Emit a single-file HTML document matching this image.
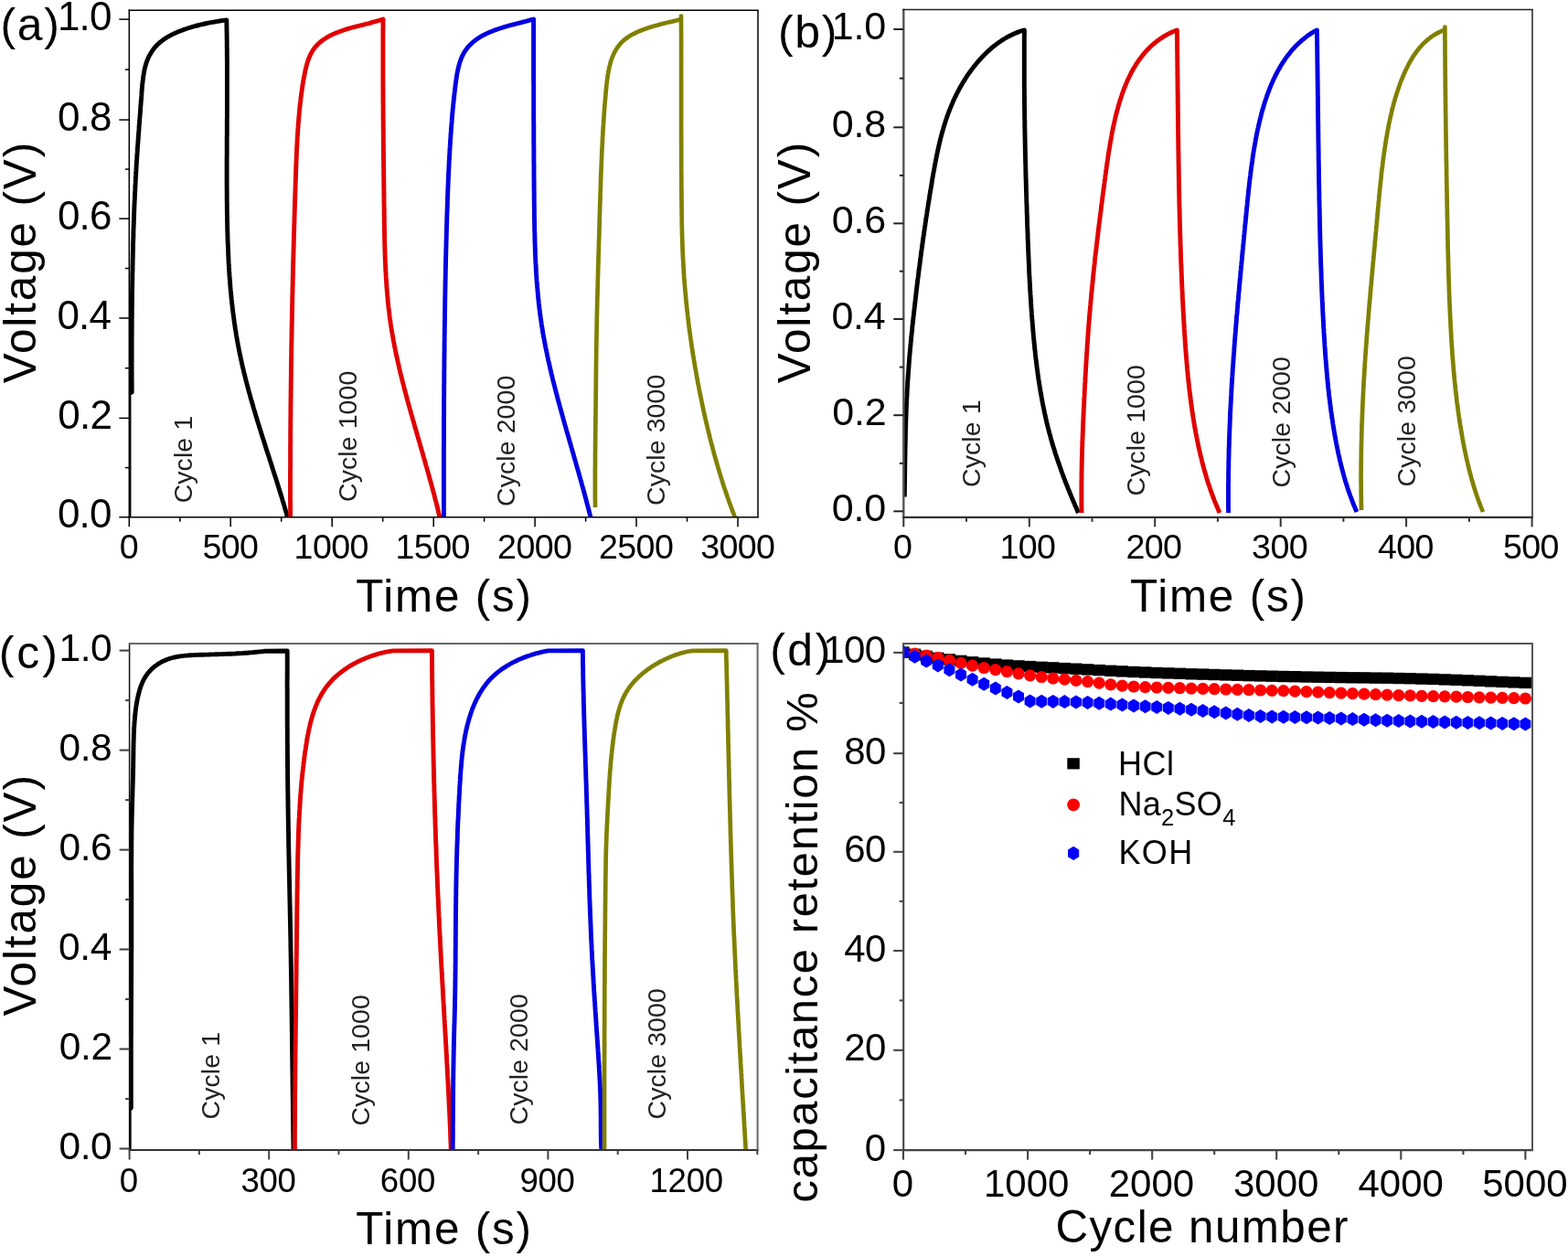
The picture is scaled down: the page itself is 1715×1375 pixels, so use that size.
<!DOCTYPE html>
<html lang="en">
<head>
<meta charset="utf-8">
<title>Galvanostatic charge-discharge cycles and capacitance retention</title>
<style>
html,body{margin:0;padding:0;background:#fff;}
body{width:1715px;height:1375px;overflow:hidden;}
svg{display:block;font-family:'Liberation Sans', sans-serif;}
</style>
</head>
<body>
<svg width="1715" height="1375" viewBox="0 0 1715 1375">
<rect x="0" y="0" width="1715" height="1375" fill="#ffffff"/>
<clipPath id="cp1"><rect x="141.3" y="11.3" width="687.7" height="554.4"/></clipPath><g clip-path="url(#cp1)">
<polyline points="141,566 141,431 144.2,429 144.2,426.2 144.2,423.5 144.2,420.7 144.2,417.9 144.1,415.1 144.1,412.4 144.1,409.6 144.1,406.8 144.1,403.9 144.1,401.1 144.1,398.3 144.1,395.5 144.1,392.6 144.1,389.8 144.1,387 144.1,384.1 144.1,381.3 144.1,378.4 144.1,375.5 144.1,372.7 144.1,369.8 144.2,366.9 144.2,364.1 144.2,361.2 144.2,358.3 144.2,355.4 144.2,352.6 144.2,349.7 144.3,346.8 144.3,343.9 144.3,341 144.3,338.1 144.4,335.2 144.4,332.3 144.4,329.4 144.5,326.5 144.5,323.6 144.5,320.8 144.6,317.9 144.6,315 144.7,312.1 144.7,309.2 144.8,306.3 144.8,303.4 144.8,300.5 144.9,297.7 145,294.8 145,291.9 145.1,289 145.1,286.2 145.2,283.3 145.3,280.4 145.3,277.6 145.4,274.7 145.5,271.9 145.5,269 145.6,266.2 145.7,263.3 145.8,260.5 145.9,257.7 145.9,254.8 146,252 146.1,249.2 146.2,246.4 146.3,243.6 146.4,240.8 146.5,238 146.6,235.3 146.7,232.5 146.8,229.7 146.9,227 147,224.2 147.1,221.5 147.3,218.7 147.4,216 147.5,213.3 147.6,210.6 147.8,207.9 147.9,205.2 148,202.5 148.2,199.9 148.3,197.2 148.4,194.6 148.6,191.9 148.7,189.3 148.9,186.7 149,184.1 149.2,181.5 149.3,178.9 149.5,176.4 149.7,173.8 149.8,171.2 150,168.7 150.2,166.2 150.3,163.6 150.5,161.1 150.7,158.6 150.9,156.1 151.1,153.6 151.2,151.1 151.4,148.6 151.6,146.1 151.8,143.7 152,141.2 152.1,138.7 152.3,136.2 152.5,133.8 152.7,131.3 152.9,128.9 153.1,126.4 153.3,124 153.5,121.5 153.6,119.1 153.8,116.6 154,114.2 154.2,111.7 154.4,109.3 154.6,106.8 154.8,104.4 154.9,101.9 155.1,99.5 155.3,97 155.5,94.6 155.7,92.2 156,89.7 156.3,87.4 156.6,85 156.9,82.7 157.3,80.4 157.7,78.1 158.1,75.9 158.6,73.7 159.2,71.6 159.8,69.5 160.5,67.5 161.2,65.5 162.1,63.6 162.9,61.7 163.9,59.9 164.9,58.2 166,56.5 167.1,54.8 168.3,53.2 169.6,51.7 170.9,50.2 172.3,48.8 173.7,47.5 175.2,46.1 176.8,44.9 178.4,43.7 180,42.5 181.8,41.4 183.5,40.3 185.3,39.3 187.2,38.3 189.1,37.4 191,36.5 192.9,35.6 194.9,34.8 196.9,34 198.9,33.2 201,32.4 203,31.7 205.1,31 207.2,30.4 209.2,29.7 211.3,29.1 213.4,28.5 215.5,28 217.6,27.5 219.7,26.9 221.8,26.5 223.9,26 226,25.5 228.1,25.1 230.1,24.7 232.2,24.3 234.2,24 236.2,23.6 238.2,23.3 240.1,23 242,22.7 243.9,22.4 245.8,22.1 247.6,21.9 247.8,21.9 247.9,25.1 247.9,28.3 248,31.4 248,34.6 248.1,37.7 248.1,40.9 248.2,44 248.2,47.1 248.2,50.2 248.3,53.3 248.3,56.4 248.3,59.5 248.3,62.6 248.4,65.6 248.4,68.7 248.4,71.7 248.4,74.7 248.4,77.8 248.4,80.8 248.4,83.8 248.4,86.8 248.4,89.8 248.4,92.7 248.4,95.7 248.4,98.7 248.4,101.6 248.4,104.5 248.4,107.5 248.4,110.4 248.4,113.3 248.4,116.2 248.4,119.1 248.4,122 248.4,124.9 248.4,127.7 248.3,130.6 248.3,133.4 248.3,136.3 248.3,139.1 248.3,141.9 248.3,144.8 248.3,147.6 248.2,150.4 248.2,153.2 248.2,155.9 248.2,158.7 248.2,161.5 248.2,164.2 248.2,167 248.2,169.7 248.1,172.5 248.1,175.2 248.1,177.9 248.1,180.6 248.1,183.3 248.1,186 248.1,188.7 248.1,191.4 248.1,194 248.1,196.7 248.1,199.3 248.1,202 248.1,204.6 248.1,207.2 248.2,209.9 248.2,212.5 248.2,215.1 248.2,217.7 248.2,220.3 248.3,222.8 248.3,225.4 248.3,228 248.3,230.5 248.4,233.1 248.4,235.6 248.5,238.2 248.5,240.7 248.6,243.2 248.6,245.7 248.7,248.2 248.7,250.7 248.8,253.2 248.9,255.7 248.9,258.2 249,260.7 249.1,263.1 249.2,265.6 249.3,268 249.4,270.5 249.5,272.9 249.6,275.3 249.7,277.8 249.8,280.2 249.9,282.6 250,285 250.1,287.4 250.3,289.8 250.4,292.2 250.6,294.5 250.7,296.9 250.9,299.3 251,301.7 251.2,304 251.4,306.4 251.6,308.7 251.7,311 251.9,313.4 252.1,315.7 252.3,318 252.6,320.4 252.8,322.7 253,325 253.2,327.3 253.5,329.6 253.7,331.9 254,334.3 254.2,336.6 254.5,338.9 254.8,341.1 255.1,343.4 255.4,345.7 255.7,348 256,350.3 256.3,352.6 256.7,354.9 257,357.2 257.3,359.4 257.7,361.7 258.1,364 258.4,366.3 258.8,368.6 259.2,370.8 259.6,373.1 260,375.4 260.4,377.7 260.9,379.9 261.3,382.2 261.8,384.5 262.2,386.8 262.7,389.1 263.2,391.3 263.7,393.6 264.2,395.9 264.7,398.2 265.2,400.5 265.7,402.7 266.3,405 266.8,407.3 267.4,409.6 268,411.9 268.5,414.2 269.1,416.5 269.7,418.7 270.3,421 270.9,423.3 271.5,425.6 272.1,427.9 272.8,430.2 273.4,432.4 274,434.7 274.7,437 275.3,439.3 276,441.6 276.7,443.8 277.3,446.1 278,448.4 278.7,450.7 279.4,452.9 280,455.2 280.7,457.5 281.4,459.7 282.1,462 282.8,464.2 283.5,466.5 284.2,468.8 284.9,471 285.6,473.3 286.3,475.5 287,477.8 287.7,480 288.5,482.2 289.2,484.5 289.9,486.7 290.6,488.9 291.3,491.2 292,493.4 292.7,495.6 293.5,497.8 294.2,500 294.9,502.2 295.6,504.4 296.3,506.6 297,508.8 297.7,511 298.4,513.2 299.1,515.4 299.8,517.5 300.5,519.7 301.2,521.9 301.9,524 302.6,526.2 303.2,528.3 303.9,530.5 304.6,532.6 305.2,534.8 305.9,536.9 306.6,539 307.2,541.1 307.9,543.2 308.5,545.3 309.1,547.4 309.8,549.5 310.4,551.6 311,553.7 311.6,555.7 312.2,557.8 312.8,559.9 313.4,561.9 313.9,564 314.5,566" fill="none" stroke="#000000" stroke-width="4.9" stroke-linejoin="round" stroke-linecap="butt" stroke-miterlimit="3"/>
<polyline points="317.6,566 317.6,562.9 317.6,559.9 317.6,556.9 317.6,553.8 317.6,550.8 317.5,547.7 317.5,544.7 317.5,541.7 317.5,538.6 317.5,535.6 317.5,532.6 317.5,529.6 317.5,526.6 317.5,523.5 317.5,520.5 317.5,517.5 317.5,514.5 317.6,511.5 317.6,508.5 317.6,505.5 317.6,502.5 317.6,499.5 317.6,496.5 317.6,493.6 317.6,490.6 317.6,487.6 317.7,484.6 317.7,481.7 317.7,478.7 317.7,475.7 317.7,472.8 317.7,469.8 317.8,466.9 317.8,463.9 317.8,461 317.8,458 317.9,455.1 317.9,452.1 317.9,449.2 317.9,446.3 318,443.3 318,440.4 318,437.5 318.1,434.6 318.1,431.7 318.1,428.8 318.2,425.9 318.2,423 318.2,420.1 318.3,417.2 318.3,414.3 318.3,411.4 318.4,408.5 318.4,405.6 318.4,402.8 318.5,399.9 318.5,397 318.6,394.2 318.6,391.3 318.7,388.5 318.7,385.6 318.7,382.8 318.8,379.9 318.8,377.1 318.9,374.3 318.9,371.4 319,368.6 319,365.8 319.1,363 319.1,360.2 319.2,357.4 319.2,354.6 319.3,351.8 319.3,349 319.4,346.2 319.4,343.4 319.5,340.6 319.6,337.8 319.6,335.1 319.7,332.3 319.7,329.5 319.8,326.8 319.8,324 319.9,321.3 320,318.5 320,315.8 320.1,313.1 320.2,310.3 320.2,307.6 320.3,304.9 320.3,302.2 320.4,299.5 320.5,296.8 320.5,294.1 320.6,291.4 320.7,288.7 320.7,286 320.8,283.3 320.9,280.6 320.9,278 321,275.3 321.1,272.6 321.2,270 321.2,267.3 321.3,264.7 321.4,262 321.4,259.4 321.5,256.8 321.6,254.1 321.7,251.5 321.7,248.9 321.8,246.3 321.9,243.7 322,241.1 322,238.5 322.1,235.9 322.2,233.3 322.3,230.8 322.3,228.2 322.4,225.6 322.5,223.1 322.6,220.5 322.7,218 322.7,215.4 322.8,212.9 322.9,210.4 323,207.8 323.1,205.3 323.1,202.8 323.2,200.3 323.3,197.8 323.4,195.3 323.5,192.8 323.6,190.3 323.6,187.8 323.7,185.4 323.8,182.9 323.9,180.4 324,178 324.1,175.5 324.2,173.1 324.3,170.7 324.4,168.2 324.5,165.8 324.6,163.4 324.7,161 324.9,158.6 325,156.2 325.1,153.9 325.2,151.5 325.4,149.1 325.5,146.8 325.7,144.4 325.8,142.1 326,139.7 326.1,137.4 326.3,135.1 326.5,132.8 326.7,130.5 326.9,128.2 327.1,125.9 327.3,123.7 327.5,121.4 327.7,119.2 327.9,116.9 328.2,114.7 328.4,112.5 328.7,110.3 328.9,108.1 329.2,105.9 329.5,103.7 329.8,101.5 330.1,99.3 330.4,97.2 330.7,95.1 331,92.9 331.4,90.8 331.7,88.7 332.1,86.6 332.5,84.5 332.9,82.4 333.3,80.4 333.7,78.3 334.1,76.3 334.6,74.3 335.1,72.3 335.6,70.4 336.2,68.4 336.8,66.5 337.5,64.7 338.2,62.9 339,61.1 339.8,59.3 340.7,57.7 341.6,56 342.6,54.4 343.7,52.9 344.9,51.4 346.2,50 347.5,48.6 348.9,47.3 350.3,46 351.8,44.8 353.4,43.6 355.1,42.5 356.7,41.4 358.5,40.4 360.2,39.4 362.1,38.5 363.9,37.6 365.8,36.8 367.7,35.9 369.7,35.2 371.7,34.4 373.7,33.7 375.7,33 377.7,32.3 379.8,31.7 381.8,31.1 383.9,30.5 386,29.9 388.1,29.4 390.1,28.8 392.2,28.3 394.3,27.8 396.3,27.3 398.3,26.8 400.4,26.2 402.4,25.8 404.3,25.3 406.3,24.7 408.2,24.2 410.1,23.7 412,23.2 413.8,22.7 415.6,22.1 417.3,21.6 419,21 419,21.3 419,24.2 419,27.2 419,30.1 418.9,33.1 418.9,36 418.9,38.9 418.9,41.9 418.9,44.8 418.9,47.7 418.9,50.6 418.9,53.5 418.9,56.4 418.9,59.4 418.9,62.3 418.9,65.1 418.9,68 418.9,70.9 418.9,73.8 418.9,76.7 418.9,79.6 418.9,82.4 418.9,85.3 418.9,88.1 418.9,91 418.9,93.8 418.9,96.7 419,99.5 419,102.3 419,105.2 419,108 419,110.8 419,113.6 419.1,116.4 419.1,119.2 419.1,122 419.1,124.7 419.1,127.5 419.1,130.3 419.2,133 419.2,135.8 419.2,138.5 419.2,141.2 419.3,144 419.3,146.7 419.3,149.4 419.3,152.1 419.3,154.8 419.4,157.5 419.4,160.1 419.4,162.8 419.4,165.5 419.5,168.1 419.5,170.7 419.5,173.4 419.5,176 419.6,178.6 419.6,181.2 419.6,183.8 419.7,186.4 419.7,189 419.7,191.5 419.7,194.1 419.8,196.6 419.8,199.2 419.8,201.7 419.8,204.2 419.9,206.7 419.9,209.2 419.9,211.7 420,214.2 420,216.7 420,219.1 420,221.6 420.1,224 420.1,226.5 420.1,228.9 420.2,231.4 420.2,233.8 420.2,236.2 420.3,238.6 420.3,241 420.3,243.5 420.4,245.9 420.4,248.3 420.4,250.7 420.5,253.1 420.5,255.5 420.6,257.9 420.6,260.3 420.7,262.7 420.7,265 420.8,267.4 420.9,269.8 420.9,272.2 421,274.6 421.1,276.9 421.1,279.3 421.2,281.7 421.3,284 421.4,286.4 421.5,288.8 421.6,291.1 421.7,293.5 421.8,295.8 422,298.2 422.1,300.6 422.2,302.9 422.4,305.3 422.5,307.6 422.7,309.9 422.8,312.3 423,314.6 423.2,317 423.4,319.3 423.6,321.7 423.8,324 424,326.3 424.2,328.7 424.4,331 424.7,333.3 424.9,335.7 425.2,338 425.5,340.3 425.8,342.6 426,345 426.3,347.3 426.7,349.6 427,352 427.3,354.3 427.7,356.6 428,358.9 428.4,361.3 428.8,363.6 429.2,365.9 429.6,368.2 430,370.6 430.4,372.9 430.9,375.2 431.3,377.5 431.8,379.9 432.2,382.2 432.7,384.5 433.2,386.8 433.7,389.2 434.2,391.5 434.7,393.8 435.2,396.1 435.8,398.5 436.3,400.8 436.8,403.1 437.4,405.4 437.9,407.8 438.5,410.1 439.1,412.4 439.6,414.7 440.2,417.1 440.8,419.4 441.4,421.7 442,424.1 442.6,426.4 443.2,428.7 443.9,431.1 444.5,433.4 445.1,435.7 445.7,438.1 446.4,440.4 447,442.7 447.7,445.1 448.3,447.4 449,449.7 449.6,452.1 450.3,454.4 451,456.8 451.6,459.1 452.3,461.4 453,463.8 453.6,466.1 454.3,468.5 455,470.8 455.7,473.2 456.3,475.5 457,477.9 457.7,480.2 458.4,482.6 459.1,484.9 459.7,487.3 460.4,489.6 461.1,492 461.8,494.4 462.5,496.7 463.1,499.1 463.8,501.5 464.5,503.8 465.2,506.2 465.8,508.6 466.5,510.9 467.2,513.3 467.9,515.7 468.5,518.1 469.2,520.4 469.8,522.8 470.5,525.2 471.2,527.6 471.8,530 472.5,532.3 473.1,534.7 473.7,537.1 474.4,539.5 475,541.9 475.6,544.3 476.2,546.7 476.9,549.1 477.5,551.5 478.1,553.9 478.7,556.3 479.3,558.8 479.8,561.2 480.4,563.6 481,566" fill="none" stroke="#e00000" stroke-width="4.9" stroke-linejoin="round" stroke-linecap="butt" stroke-miterlimit="3"/>
<polyline points="485.4,566 485.4,563 485.4,560.1 485.4,557.1 485.4,554.1 485.4,551.2 485.4,548.2 485.4,545.2 485.4,542.3 485.4,539.3 485.4,536.4 485.4,533.4 485.4,530.4 485.4,527.5 485.4,524.5 485.4,521.5 485.4,518.6 485.4,515.6 485.4,512.6 485.4,509.7 485.4,506.7 485.4,503.8 485.4,500.8 485.4,497.8 485.4,494.9 485.4,491.9 485.4,489 485.5,486 485.5,483.1 485.5,480.1 485.5,477.2 485.5,474.2 485.5,471.3 485.5,468.3 485.5,465.4 485.5,462.4 485.5,459.5 485.5,456.5 485.6,453.6 485.6,450.7 485.6,447.7 485.6,444.8 485.6,441.9 485.6,438.9 485.6,436 485.7,433.1 485.7,430.2 485.7,427.2 485.7,424.3 485.7,421.4 485.8,418.5 485.8,415.6 485.8,412.7 485.8,409.8 485.8,406.9 485.9,404 485.9,401.1 485.9,398.2 485.9,395.3 486,392.4 486,389.5 486,386.7 486.1,383.8 486.1,380.9 486.1,378 486.1,375.2 486.2,372.3 486.2,369.5 486.2,366.6 486.3,363.8 486.3,360.9 486.3,358.1 486.4,355.2 486.4,352.4 486.5,349.6 486.5,346.7 486.5,343.9 486.6,341.1 486.6,338.3 486.7,335.5 486.7,332.7 486.7,329.9 486.8,327.1 486.8,324.3 486.9,321.5 486.9,318.7 487,315.9 487,313.2 487.1,310.4 487.1,307.6 487.2,304.9 487.2,302.1 487.3,299.4 487.3,296.6 487.4,293.9 487.5,291.2 487.5,288.4 487.6,285.7 487.6,283 487.7,280.3 487.8,277.6 487.8,274.9 487.9,272.2 488,269.5 488,266.8 488.1,264.2 488.2,261.5 488.2,258.8 488.3,256.2 488.4,253.5 488.5,250.9 488.5,248.2 488.6,245.6 488.7,243 488.8,240.4 488.8,237.8 488.9,235.2 489,232.6 489.1,230 489.2,227.4 489.3,224.8 489.4,222.2 489.4,219.7 489.5,217.1 489.6,214.6 489.7,212 489.8,209.5 489.9,207 490,204.5 490.1,202 490.2,199.4 490.3,197 490.4,194.5 490.5,192 490.6,189.5 490.8,187 490.9,184.6 491,182.1 491.1,179.7 491.2,177.2 491.4,174.8 491.5,172.4 491.6,170 491.8,167.6 491.9,165.2 492,162.8 492.2,160.4 492.3,158 492.5,155.6 492.6,153.3 492.8,150.9 492.9,148.6 493.1,146.2 493.3,143.9 493.4,141.6 493.6,139.3 493.8,137 494,134.7 494.2,132.4 494.3,130.1 494.5,127.8 494.7,125.5 494.9,123.3 495.1,121 495.3,118.8 495.6,116.6 495.8,114.3 496,112.1 496.2,109.9 496.5,107.7 496.7,105.5 496.9,103.3 497.2,101.1 497.4,99 497.7,96.8 498,94.7 498.2,92.5 498.5,90.4 498.8,88.3 499.1,86.1 499.4,84.1 499.7,82 500.1,79.9 500.5,77.9 500.9,75.9 501.4,73.9 501.9,71.9 502.4,70 503,68.1 503.6,66.3 504.3,64.4 505,62.6 505.8,60.9 506.7,59.2 507.6,57.5 508.6,55.9 509.7,54.4 510.8,52.9 512,51.4 513.3,50 514.7,48.6 516.1,47.3 517.5,46 519,44.7 520.6,43.6 522.2,42.4 523.9,41.3 525.6,40.2 527.4,39.2 529.2,38.2 531.1,37.3 533,36.4 534.9,35.5 536.8,34.7 538.8,33.9 540.8,33.1 542.8,32.4 544.8,31.7 546.9,31 548.9,30.4 551,29.7 553,29.1 555.1,28.5 557.1,27.9 559.2,27.4 561.2,26.8 563.2,26.3 565.2,25.8 567.2,25.3 569.2,24.8 571.1,24.3 573,23.8 574.9,23.3 576.7,22.9 578.5,22.4 580.2,21.9 581.9,21.5 583.6,21 583.6,21.3 583.6,24.1 583.6,26.8 583.6,29.6 583.6,32.4 583.6,35.2 583.6,38.1 583.6,40.9 583.6,43.7 583.6,46.6 583.6,49.4 583.6,52.3 583.6,55.1 583.6,58 583.6,60.9 583.6,63.7 583.6,66.6 583.6,69.5 583.6,72.4 583.6,75.3 583.6,78.2 583.6,81.1 583.6,84 583.6,86.9 583.6,89.8 583.7,92.7 583.7,95.6 583.7,98.5 583.7,101.4 583.7,104.3 583.7,107.2 583.7,110.1 583.7,112.9 583.7,115.8 583.7,118.7 583.7,121.6 583.7,124.5 583.7,127.4 583.7,130.2 583.7,133.1 583.8,136 583.8,138.8 583.8,141.6 583.8,144.5 583.8,147.3 583.8,150.1 583.8,153 583.8,155.8 583.8,158.6 583.9,161.3 583.9,164.1 583.9,166.9 583.9,169.6 583.9,172.4 583.9,175.1 583.9,177.8 584,180.5 584,183.2 584,185.9 584,188.6 584,191.2 584,193.9 584.1,196.5 584.1,199.1 584.1,201.7 584.1,204.2 584.1,206.8 584.2,209.3 584.2,211.9 584.2,214.4 584.2,216.9 584.2,219.3 584.3,221.8 584.3,224.2 584.3,226.7 584.4,229.1 584.4,231.5 584.4,233.9 584.4,236.3 584.5,238.7 584.5,241.1 584.6,243.4 584.6,245.8 584.6,248.1 584.7,250.5 584.7,252.9 584.8,255.2 584.9,257.6 584.9,259.9 585,262.3 585,264.6 585.1,266.9 585.2,269.3 585.3,271.6 585.3,273.9 585.4,276.3 585.5,278.6 585.6,280.9 585.7,283.2 585.8,285.6 585.9,287.9 586.1,290.2 586.2,292.5 586.3,294.8 586.4,297.2 586.6,299.5 586.7,301.8 586.9,304.1 587,306.4 587.2,308.7 587.4,311 587.6,313.3 587.8,315.6 588,317.9 588.2,320.2 588.4,322.5 588.6,324.8 588.8,327.1 589.1,329.4 589.3,331.7 589.6,334.1 589.8,336.4 590.1,338.7 590.4,341 590.7,343.3 591,345.6 591.3,347.9 591.7,350.2 592,352.5 592.3,354.8 592.7,357.1 593.1,359.4 593.4,361.7 593.8,364 594.2,366.3 594.6,368.6 595.1,370.9 595.5,373.3 595.9,375.6 596.4,377.9 596.8,380.2 597.3,382.5 597.8,384.8 598.3,387.1 598.7,389.5 599.2,391.8 599.7,394.1 600.3,396.4 600.8,398.7 601.3,401.1 601.8,403.4 602.4,405.7 602.9,408 603.5,410.4 604.1,412.7 604.6,415 605.2,417.3 605.8,419.7 606.4,422 607,424.3 607.6,426.6 608.2,429 608.8,431.3 609.4,433.6 610,436 610.6,438.3 611.3,440.7 611.9,443 612.5,445.3 613.2,447.7 613.8,450 614.5,452.4 615.1,454.7 615.8,457 616.4,459.4 617.1,461.7 617.7,464.1 618.4,466.4 619.1,468.8 619.7,471.1 620.4,473.5 621.1,475.8 621.8,478.2 622.4,480.5 623.1,482.9 623.8,485.2 624.5,487.6 625.1,489.9 625.8,492.3 626.5,494.7 627.2,497 627.8,499.4 628.5,501.8 629.2,504.1 629.9,506.5 630.5,508.9 631.2,511.2 631.9,513.6 632.6,516 633.2,518.3 633.9,520.7 634.6,523.1 635.2,525.4 635.9,527.8 636.5,530.2 637.2,532.6 637.9,535 638.5,537.3 639.2,539.7 639.8,542.1 640.4,544.5 641.1,546.9 641.7,549.3 642.3,551.6 643,554 643.6,556.4 644.2,558.8 644.8,561.2 645.4,563.6 646,566" fill="none" stroke="#0000e0" stroke-width="4.9" stroke-linejoin="round" stroke-linecap="butt" stroke-miterlimit="3"/>
<polyline points="651,555 651,551.8 651,548.7 650.9,545.5 650.9,542.4 650.9,539.3 650.9,536.3 650.9,533.3 650.9,530.2 650.9,527.2 650.9,524.3 650.9,521.3 650.9,518.4 650.9,515.5 650.9,512.6 651,509.7 651,506.8 651,504 651,501.1 651,498.3 651,495.5 651.1,492.7 651.1,489.9 651.1,487.2 651.1,484.4 651.2,481.6 651.2,478.9 651.2,476.2 651.2,473.5 651.3,470.7 651.3,468 651.3,465.3 651.4,462.6 651.4,459.9 651.4,457.3 651.5,454.6 651.5,451.9 651.5,449.2 651.5,446.5 651.6,443.9 651.6,441.2 651.6,438.5 651.7,435.8 651.7,433.2 651.7,430.5 651.7,427.8 651.8,425.1 651.8,422.4 651.8,419.7 651.8,417 651.9,414.3 651.9,411.6 651.9,408.9 651.9,406.2 652,403.5 652,400.7 652,398 652.1,395.3 652.1,392.5 652.1,389.8 652.2,387 652.2,384.3 652.2,381.5 652.3,378.7 652.3,375.9 652.4,373.1 652.4,370.4 652.5,367.5 652.5,364.7 652.6,361.9 652.6,359.1 652.7,356.3 652.7,353.5 652.8,350.6 652.8,347.8 652.9,345 653,342.1 653,339.3 653.1,336.4 653.2,333.6 653.2,330.7 653.3,327.9 653.4,325 653.5,322.2 653.5,319.3 653.6,316.5 653.7,313.6 653.8,310.8 653.8,307.9 653.9,305.1 654,302.3 654.1,299.4 654.1,296.6 654.2,293.8 654.3,290.9 654.4,288.1 654.5,285.3 654.5,282.5 654.6,279.7 654.7,276.9 654.8,274.1 654.9,271.3 654.9,268.5 655,265.7 655.1,262.9 655.2,260.2 655.3,257.4 655.4,254.7 655.4,252 655.5,249.2 655.6,246.5 655.7,243.8 655.7,241.1 655.8,238.4 655.9,235.7 656,233.1 656.1,230.4 656.1,227.7 656.2,225.1 656.3,222.5 656.4,219.8 656.5,217.2 656.5,214.6 656.6,212 656.7,209.4 656.8,206.8 656.9,204.3 657,201.7 657,199.1 657.1,196.6 657.2,194.1 657.3,191.5 657.4,189 657.5,186.5 657.6,184 657.7,181.5 657.8,179 657.9,176.5 658,174.1 658.1,171.6 658.2,169.1 658.3,166.7 658.4,164.3 658.5,161.8 658.7,159.4 658.8,157 658.9,154.6 659,152.2 659.1,149.8 659.3,147.4 659.4,145.1 659.5,142.7 659.7,140.3 659.8,138 660,135.7 660.1,133.3 660.3,131 660.4,128.7 660.6,126.4 660.7,124.1 660.9,121.8 661.1,119.5 661.2,117.2 661.4,115 661.6,112.7 661.8,110.5 662,108.2 662.2,106 662.4,103.7 662.6,101.5 662.8,99.3 663,97.1 663.2,94.9 663.4,92.7 663.7,90.5 663.9,88.4 664.2,86.2 664.5,84.1 664.8,82 665.2,79.9 665.5,77.9 666,75.8 666.4,73.8 666.9,71.8 667.4,69.9 667.9,67.9 668.5,66 669.2,64.2 669.8,62.4 670.6,60.6 671.4,58.8 672.2,57.1 673.1,55.4 674.1,53.8 675.1,52.2 676.2,50.7 677.4,49.2 678.6,47.7 679.9,46.3 681.3,45 682.7,43.7 684.3,42.5 685.9,41.3 687.5,40.2 689.3,39.1 691.1,38 692.9,37.1 694.8,36.1 696.7,35.2 698.7,34.3 700.7,33.5 702.7,32.7 704.7,31.9 706.8,31.2 708.9,30.5 711,29.8 713.1,29.2 715.2,28.6 717.3,28 719.4,27.4 721.5,26.8 723.5,26.3 725.6,25.8 727.6,25.3 729.6,24.8 731.6,24.3 733.6,23.9 735.5,23.4 737.5,22.9 739.3,22.5 741.2,22 743,21.6 745,21.3 745,17.5 745,21.3 745,23.8 745,26.4 745,29 745,31.6 745.1,34.3 745.1,37 745.1,39.7 745.1,42.4 745.1,45.1 745.1,47.9 745.1,50.7 745.1,53.5 745.1,56.4 745.1,59.2 745.1,62.1 745.1,65 745.1,67.9 745.1,70.8 745.1,73.7 745.1,76.7 745.1,79.7 745.1,82.6 745.1,85.6 745.1,88.6 745.1,91.6 745.1,94.7 745.1,97.7 745.1,100.7 745.1,103.8 745.1,106.8 745.1,109.9 745.1,112.9 745.1,116 745.1,119.1 745.1,122.1 745.1,125.2 745.1,128.3 745.1,131.3 745.1,134.4 745.1,137.5 745.1,140.5 745.1,143.6 745.1,146.6 745.1,149.7 745.1,152.7 745.1,155.7 745.2,158.8 745.2,161.8 745.2,164.8 745.2,167.8 745.2,170.8 745.2,173.7 745.2,176.7 745.2,179.6 745.2,182.5 745.2,185.5 745.2,188.3 745.3,191.2 745.3,194.1 745.3,196.9 745.3,199.7 745.3,202.5 745.3,205.3 745.4,208.1 745.4,210.8 745.4,213.5 745.4,216.2 745.5,218.9 745.5,221.5 745.5,224.1 745.5,226.7 745.6,229.2 745.6,231.7 745.6,234.2 745.7,236.7 745.7,239.1 745.7,241.5 745.8,243.9 745.8,246.3 745.9,248.6 745.9,251 746,253.3 746,255.6 746.1,257.9 746.2,260.2 746.2,262.5 746.3,264.8 746.4,267 746.5,269.3 746.5,271.6 746.6,273.8 746.7,276.1 746.8,278.3 746.9,280.6 747,282.8 747.2,285 747.3,287.3 747.4,289.5 747.5,291.8 747.7,294 747.8,296.2 747.9,298.5 748.1,300.7 748.2,302.9 748.4,305.2 748.6,307.4 748.7,309.6 748.9,311.9 749.1,314.1 749.3,316.3 749.5,318.6 749.7,320.8 749.9,323.1 750.1,325.3 750.3,327.6 750.5,329.8 750.7,332.1 751,334.3 751.2,336.6 751.4,338.9 751.7,341.2 752,343.4 752.2,345.7 752.5,348 752.8,350.3 753,352.6 753.3,354.9 753.6,357.3 753.9,359.6 754.2,361.9 754.5,364.2 754.9,366.6 755.2,368.9 755.5,371.3 755.9,373.7 756.2,376 756.6,378.4 756.9,380.8 757.3,383.1 757.6,385.5 758,387.9 758.4,390.3 758.8,392.7 759.2,395.1 759.6,397.5 760,399.9 760.4,402.3 760.8,404.7 761.2,407.1 761.7,409.5 762.1,411.9 762.5,414.3 763,416.7 763.4,419.2 763.9,421.6 764.4,424 764.8,426.4 765.3,428.8 765.8,431.2 766.3,433.6 766.8,436 767.3,438.4 767.8,440.9 768.3,443.3 768.8,445.7 769.3,448.1 769.8,450.5 770.4,452.9 770.9,455.3 771.4,457.6 772,460 772.5,462.4 773.1,464.8 773.7,467.2 774.2,469.5 774.8,471.9 775.4,474.3 776,476.6 776.5,479 777.1,481.3 777.7,483.7 778.3,486 779,488.3 779.6,490.7 780.2,493 780.8,495.3 781.4,497.6 782.1,499.9 782.7,502.2 783.4,504.4 784,506.7 784.7,509 785.3,511.2 786,513.5 786.6,515.7 787.3,517.9 788,520.1 788.7,522.3 789.4,524.5 790,526.7 790.7,528.9 791.4,531.1 792.1,533.2 792.9,535.4 793.6,537.5 794.3,539.6 795,541.7 795.7,543.8 796.5,545.9 797.2,548 797.9,550 798.7,552.1 799.4,554.1 800.2,556.1 800.9,558.1 801.7,560.1 802.5,562.1 803.2,564.1 804,566" fill="none" stroke="#808000" stroke-width="4.7" stroke-linejoin="round" stroke-linecap="butt" stroke-miterlimit="3"/>
</g>
<line x1="141.3" y1="10.6" x2="141.3" y2="566.5" stroke="#000" stroke-width="1.5"/>
<line x1="140.6" y1="565.7" x2="829.8" y2="565.7" stroke="#000" stroke-width="1.5"/>
<line x1="140.6" y1="11.3" x2="829.8" y2="11.3" stroke="#000" stroke-width="1.5"/>
<line x1="829" y1="11.3" x2="829" y2="565.7" stroke="#000" stroke-width="1.5"/>
<line x1="130.3" y1="565.7" x2="141.3" y2="565.7" stroke="#000" stroke-width="1.5"/>
<line x1="130.3" y1="457.4" x2="141.3" y2="457.4" stroke="#000" stroke-width="1.5"/>
<line x1="130.3" y1="348" x2="141.3" y2="348" stroke="#000" stroke-width="1.5"/>
<line x1="130.3" y1="239.2" x2="141.3" y2="239.2" stroke="#000" stroke-width="1.5"/>
<line x1="130.3" y1="131.1" x2="141.3" y2="131.1" stroke="#000" stroke-width="1.5"/>
<line x1="130.3" y1="21.1" x2="141.3" y2="21.1" stroke="#000" stroke-width="1.5"/>
<line x1="136.8" y1="511.6" x2="141.3" y2="511.6" stroke="#000" stroke-width="1.5"/>
<line x1="136.8" y1="402.7" x2="141.3" y2="402.7" stroke="#000" stroke-width="1.5"/>
<line x1="136.8" y1="293.6" x2="141.3" y2="293.6" stroke="#000" stroke-width="1.5"/>
<line x1="136.8" y1="185.1" x2="141.3" y2="185.1" stroke="#000" stroke-width="1.5"/>
<line x1="136.8" y1="76.1" x2="141.3" y2="76.1" stroke="#000" stroke-width="1.5"/>
<line x1="141.3" y1="565.7" x2="141.3" y2="576.2" stroke="#000" stroke-width="1.5"/>
<line x1="252.2" y1="565.7" x2="252.2" y2="576.2" stroke="#000" stroke-width="1.5"/>
<line x1="363.2" y1="565.7" x2="363.2" y2="576.2" stroke="#000" stroke-width="1.5"/>
<line x1="474.2" y1="565.7" x2="474.2" y2="576.2" stroke="#000" stroke-width="1.5"/>
<line x1="585.1" y1="565.7" x2="585.1" y2="576.2" stroke="#000" stroke-width="1.5"/>
<line x1="696" y1="565.7" x2="696" y2="576.2" stroke="#000" stroke-width="1.5"/>
<line x1="807" y1="565.7" x2="807" y2="576.2" stroke="#000" stroke-width="1.5"/>
<line x1="196.8" y1="565.7" x2="196.8" y2="570.7" stroke="#000" stroke-width="1.5"/>
<line x1="307.7" y1="565.7" x2="307.7" y2="570.7" stroke="#000" stroke-width="1.5"/>
<line x1="418.7" y1="565.7" x2="418.7" y2="570.7" stroke="#000" stroke-width="1.5"/>
<line x1="529.6" y1="565.7" x2="529.6" y2="570.7" stroke="#000" stroke-width="1.5"/>
<line x1="640.6" y1="565.7" x2="640.6" y2="570.7" stroke="#000" stroke-width="1.5"/>
<line x1="751.5" y1="565.7" x2="751.5" y2="570.7" stroke="#000" stroke-width="1.5"/>
<text x="62.90" y="577.26" font-size="44" letter-spacing="-0.80" fill="#000">0.0</text>
<text x="63.34" y="468.96" font-size="44" letter-spacing="-0.80" fill="#000">0.2</text>
<text x="62.46" y="359.56" font-size="44" letter-spacing="-0.80" fill="#000">0.4</text>
<text x="62.90" y="250.76" font-size="44" letter-spacing="-0.80" fill="#000">0.6</text>
<text x="62.90" y="142.66" font-size="44" letter-spacing="-0.80" fill="#000">0.8</text>
<text x="62.90" y="32.66" font-size="44" letter-spacing="-0.80" fill="#000">1.0</text>
<text x="130.77" y="611.32" font-size="37.6" letter-spacing="-0.60" fill="#000">0</text>
<text x="221.45" y="611.32" font-size="37.6" letter-spacing="-0.60" fill="#000">500</text>
<text x="321.61" y="611.32" font-size="37.6" letter-spacing="-0.60" fill="#000">1000</text>
<text x="432.56" y="611.32" font-size="37.6" letter-spacing="-0.60" fill="#000">1500</text>
<text x="544.08" y="611.32" font-size="37.6" letter-spacing="-0.60" fill="#000">2000</text>
<text x="655.03" y="611.32" font-size="37.6" letter-spacing="-0.60" fill="#000">2500</text>
<text x="766.16" y="611.32" font-size="37.6" letter-spacing="-0.60" fill="#000">3000</text>
<text x="389.21" y="668.90" font-size="49.4" letter-spacing="1.80" fill="#000">Time (s)</text>
<text x="38.70" y="419.19" font-size="49.4" letter-spacing="1.90" fill="#000" transform="rotate(-90 38.70 419.19)">Voltage (V)</text>
<text x="0.51" y="43.60" font-size="49.9" letter-spacing="1.70" fill="#000">(a)</text>
<text x="210.40" y="550.32" font-size="28.4" letter-spacing="0.12" fill="#222" transform="rotate(-90 210.40 550.32)">Cycle 1</text>
<text x="390.00" y="548.92" font-size="28.4" letter-spacing="0.12" fill="#222" transform="rotate(-90 390.00 548.92)">Cycle 1000</text>
<text x="563.50" y="553.92" font-size="28.4" letter-spacing="0.12" fill="#222" transform="rotate(-90 563.50 553.92)">Cycle 2000</text>
<text x="727.50" y="552.92" font-size="28.4" letter-spacing="0.12" fill="#222" transform="rotate(-90 727.50 552.92)">Cycle 3000</text>
<clipPath id="cp2"><rect x="988.3" y="10.6" width="687.7" height="555.2"/></clipPath><g clip-path="url(#cp2)">
<polyline points="989.3,543.5 989.3,540.9 989.4,538.3 989.4,535.7 989.4,533.1 989.5,530.5 989.5,527.9 989.6,525.3 989.6,522.6 989.6,520 989.7,517.3 989.7,514.7 989.7,512 989.8,509.3 989.8,506.6 989.9,503.9 989.9,501.2 989.9,498.5 990,495.8 990,493.1 990.1,490.4 990.1,487.7 990.2,484.9 990.3,482.2 990.3,479.5 990.4,476.7 990.4,474 990.5,471.2 990.6,468.5 990.7,465.7 990.7,462.9 990.8,460.2 990.9,457.4 991,454.6 991.1,451.9 991.2,449.1 991.3,446.3 991.4,443.5 991.6,440.8 991.7,438 991.8,435.2 992,432.4 992.1,429.7 992.2,426.9 992.4,424.1 992.6,421.3 992.7,418.5 992.9,415.8 993.1,413 993.3,410.2 993.5,407.4 993.7,404.7 993.9,401.9 994.1,399.1 994.3,396.4 994.5,393.6 994.7,390.8 995,388.1 995.2,385.3 995.5,382.6 995.7,379.9 996,377.1 996.2,374.4 996.5,371.6 996.7,368.9 997,366.2 997.3,363.5 997.6,360.8 997.8,358.1 998.1,355.4 998.4,352.7 998.7,350 999,347.3 999.3,344.7 999.6,342 999.9,339.4 1000.2,336.7 1000.5,334.1 1000.8,331.4 1001.1,328.8 1001.4,326.2 1001.7,323.6 1002,321 1002.3,318.4 1002.6,315.8 1002.9,313.2 1003.2,310.7 1003.5,308.1 1003.8,305.6 1004.2,303 1004.5,300.5 1004.8,297.9 1005.1,295.4 1005.4,292.9 1005.8,290.4 1006.1,287.9 1006.4,285.4 1006.7,282.9 1007.1,280.4 1007.4,277.9 1007.7,275.4 1008.1,272.9 1008.4,270.5 1008.8,268 1009.1,265.6 1009.4,263.1 1009.8,260.7 1010.1,258.2 1010.5,255.8 1010.8,253.4 1011.2,250.9 1011.5,248.5 1011.9,246.1 1012.2,243.7 1012.6,241.3 1012.9,238.9 1013.3,236.5 1013.7,234.1 1014,231.7 1014.4,229.3 1014.8,226.9 1015.1,224.6 1015.5,222.2 1015.9,219.8 1016.3,217.4 1016.6,215.1 1017,212.7 1017.4,210.4 1017.8,208 1018.2,205.7 1018.6,203.3 1019,201 1019.3,198.6 1019.7,196.3 1020.1,193.9 1020.5,191.6 1020.9,189.3 1021.4,186.9 1021.8,184.6 1022.2,182.3 1022.6,180 1023.1,177.7 1023.5,175.3 1024,173 1024.4,170.7 1024.9,168.4 1025.4,166.1 1025.9,163.8 1026.4,161.6 1026.9,159.3 1027.4,157 1028,154.7 1028.5,152.4 1029.1,150.2 1029.7,147.9 1030.3,145.7 1030.9,143.4 1031.6,141.2 1032.2,138.9 1032.9,136.7 1033.6,134.5 1034.3,132.3 1035.1,130 1035.8,127.8 1036.6,125.6 1037.4,123.4 1038.2,121.3 1039.1,119.1 1040,116.9 1040.9,114.7 1041.8,112.6 1042.7,110.4 1043.7,108.3 1044.7,106.1 1045.8,104 1046.8,101.9 1047.9,99.8 1049,97.6 1050.2,95.5 1051.4,93.5 1052.6,91.4 1053.8,89.3 1055.1,87.3 1056.4,85.2 1057.7,83.2 1059.1,81.2 1060.5,79.2 1061.9,77.3 1063.3,75.4 1064.8,73.4 1066.3,71.6 1067.8,69.7 1069.3,67.9 1070.9,66 1072.5,64.3 1074.1,62.5 1075.8,60.8 1077.4,59.1 1079.1,57.5 1080.8,55.9 1082.6,54.3 1084.4,52.7 1086.1,51.2 1088,49.8 1089.8,48.4 1091.7,47 1093.5,45.7 1095.4,44.4 1097.4,43.2 1099.3,42 1101.3,40.8 1103.3,39.7 1105.3,38.7 1107.4,37.7 1109.4,36.8 1111.5,35.9 1113.6,35.1 1115.7,34.3 1117.8,33.6 1120,33 1120.4,33 1120.4,35.9 1120.4,38.7 1120.3,41.6 1120.3,44.4 1120.3,47.3 1120.3,50.1 1120.3,53 1120.3,55.8 1120.3,58.6 1120.3,61.4 1120.3,64.2 1120.3,67 1120.3,69.8 1120.3,72.6 1120.3,75.4 1120.3,78.2 1120.3,81 1120.3,83.8 1120.3,86.5 1120.3,89.3 1120.3,92 1120.3,94.8 1120.4,97.5 1120.4,100.3 1120.4,103 1120.4,105.7 1120.5,108.5 1120.5,111.2 1120.5,113.9 1120.5,116.6 1120.6,119.3 1120.6,122 1120.6,124.7 1120.7,127.4 1120.7,130.1 1120.8,132.7 1120.8,135.4 1120.8,138.1 1120.9,140.7 1120.9,143.4 1121,146 1121,148.7 1121.1,151.3 1121.1,153.9 1121.2,156.6 1121.2,159.2 1121.3,161.8 1121.3,164.4 1121.4,167 1121.4,169.6 1121.5,172.2 1121.6,174.8 1121.6,177.4 1121.7,180 1121.8,182.5 1121.8,185.1 1121.9,187.7 1121.9,190.2 1122,192.8 1122.1,195.3 1122.2,197.9 1122.2,200.4 1122.3,203 1122.4,205.5 1122.4,208 1122.5,210.5 1122.6,213 1122.7,215.5 1122.7,218 1122.8,220.5 1122.9,223 1123,225.5 1123.1,228 1123.1,230.5 1123.2,232.9 1123.3,235.4 1123.4,237.9 1123.5,240.3 1123.5,242.8 1123.6,245.2 1123.7,247.7 1123.8,250.1 1123.9,252.5 1124,255 1124.1,257.4 1124.1,259.8 1124.2,262.2 1124.3,264.6 1124.4,267 1124.5,269.4 1124.6,271.8 1124.7,274.2 1124.8,276.6 1124.9,279 1125,281.4 1125.1,283.8 1125.2,286.2 1125.3,288.5 1125.4,290.9 1125.5,293.3 1125.6,295.7 1125.7,298.1 1125.8,300.4 1126,302.8 1126.1,305.2 1126.2,307.6 1126.3,310 1126.5,312.3 1126.6,314.7 1126.7,317.1 1126.9,319.5 1127,321.9 1127.2,324.3 1127.3,326.6 1127.5,329 1127.6,331.4 1127.8,333.8 1127.9,336.2 1128.1,338.6 1128.3,341 1128.4,343.4 1128.6,345.9 1128.8,348.3 1129,350.7 1129.2,353.1 1129.4,355.5 1129.6,358 1129.8,360.4 1130,362.9 1130.2,365.3 1130.4,367.8 1130.7,370.2 1130.9,372.7 1131.1,375.1 1131.4,377.6 1131.6,380.1 1131.9,382.6 1132.2,385 1132.4,387.5 1132.7,390 1133,392.5 1133.3,394.9 1133.6,397.4 1133.9,399.9 1134.2,402.4 1134.6,404.9 1134.9,407.4 1135.2,409.9 1135.6,412.4 1135.9,414.9 1136.3,417.3 1136.7,419.8 1137.1,422.3 1137.5,424.8 1137.9,427.3 1138.3,429.8 1138.8,432.3 1139.2,434.7 1139.7,437.2 1140.1,439.7 1140.6,442.2 1141.1,444.7 1141.6,447.1 1142.1,449.6 1142.6,452.1 1143.2,454.5 1143.7,457 1144.3,459.4 1144.8,461.9 1145.4,464.3 1146,466.8 1146.6,469.2 1147.3,471.7 1147.9,474.1 1148.6,476.5 1149.2,478.9 1149.9,481.4 1150.6,483.8 1151.3,486.2 1152,488.6 1152.8,490.9 1153.5,493.3 1154.2,495.7 1155,498.1 1155.8,500.4 1156.6,502.8 1157.4,505.1 1158.2,507.4 1159,509.7 1159.8,512 1160.6,514.3 1161.4,516.6 1162.3,518.9 1163.1,521.1 1163.9,523.4 1164.8,525.6 1165.6,527.8 1166.5,530 1167.4,532.2 1168.2,534.4 1169.1,536.5 1170,538.7 1170.8,540.8 1171.7,542.9 1172.6,545 1173.4,547 1174.3,549.1 1175.2,551.1 1176,553.1 1176.9,555.1 1177.8,557.1 1178.6,559.1 1179.5,561" fill="none" stroke="#000000" stroke-width="4.9" stroke-linejoin="round" stroke-linecap="butt" stroke-miterlimit="3"/>
<polyline points="1183,561 1183,557.9 1182.9,554.9 1182.9,551.9 1182.9,548.9 1182.9,545.9 1182.9,543 1182.9,540.2 1182.9,537.3 1182.9,534.5 1182.9,531.7 1182.9,529 1182.9,526.2 1183,523.5 1183,520.8 1183,518.1 1183.1,515.5 1183.1,512.9 1183.2,510.3 1183.2,507.7 1183.3,505.1 1183.3,502.5 1183.4,500 1183.5,497.5 1183.5,495 1183.6,492.4 1183.7,489.9 1183.8,487.4 1183.8,485 1183.9,482.5 1184,480 1184.1,477.5 1184.2,475.1 1184.3,472.6 1184.4,470.1 1184.5,467.7 1184.6,465.2 1184.7,462.7 1184.8,460.2 1184.9,457.8 1185,455.3 1185.1,452.8 1185.2,450.3 1185.3,447.8 1185.5,445.3 1185.6,442.8 1185.7,440.3 1185.8,437.7 1185.9,435.2 1186.1,432.7 1186.2,430.1 1186.3,427.6 1186.5,425 1186.6,422.4 1186.7,419.8 1186.9,417.2 1187,414.7 1187.1,412.1 1187.3,409.5 1187.4,406.8 1187.6,404.2 1187.7,401.6 1187.9,399 1188,396.4 1188.2,393.8 1188.4,391.1 1188.5,388.5 1188.7,385.9 1188.9,383.2 1189,380.6 1189.2,378 1189.4,375.3 1189.6,372.7 1189.8,370.1 1189.9,367.4 1190.1,364.8 1190.3,362.2 1190.5,359.6 1190.7,356.9 1190.9,354.3 1191.1,351.7 1191.3,349.1 1191.5,346.5 1191.8,343.9 1192,341.3 1192.2,338.7 1192.4,336.1 1192.7,333.5 1192.9,330.9 1193.1,328.3 1193.4,325.7 1193.6,323.1 1193.8,320.6 1194.1,318 1194.3,315.4 1194.6,312.8 1194.9,310.3 1195.1,307.7 1195.4,305.1 1195.6,302.5 1195.9,300 1196.2,297.4 1196.4,294.9 1196.7,292.3 1197,289.7 1197.3,287.2 1197.5,284.6 1197.8,282 1198.1,279.5 1198.4,276.9 1198.7,274.4 1199,271.8 1199.3,269.3 1199.6,266.7 1199.9,264.1 1200.2,261.6 1200.5,259 1200.8,256.5 1201.1,253.9 1201.4,251.4 1201.7,248.8 1202,246.2 1202.4,243.7 1202.7,241.1 1203,238.6 1203.3,236 1203.6,233.4 1204,230.9 1204.3,228.3 1204.6,225.7 1204.9,223.2 1205.3,220.6 1205.6,218 1205.9,215.5 1206.3,212.9 1206.6,210.3 1207,207.7 1207.3,205.1 1207.6,202.6 1208,200 1208.3,197.4 1208.7,194.8 1209,192.2 1209.4,189.6 1209.7,187 1210.1,184.4 1210.4,181.8 1210.8,179.3 1211.2,176.7 1211.6,174.1 1211.9,171.5 1212.3,168.9 1212.7,166.4 1213.1,163.8 1213.6,161.2 1214,158.7 1214.4,156.1 1214.9,153.6 1215.3,151.1 1215.8,148.5 1216.2,146 1216.7,143.5 1217.2,141 1217.7,138.5 1218.3,136.1 1218.8,133.6 1219.4,131.1 1219.9,128.7 1220.5,126.3 1221.1,123.9 1221.7,121.5 1222.4,119.1 1223,116.8 1223.7,114.4 1224.4,112.1 1225.1,109.8 1225.8,107.5 1226.6,105.2 1227.3,103 1228.1,100.7 1228.9,98.5 1229.8,96.3 1230.6,94.2 1231.5,92 1232.4,89.9 1233.3,87.8 1234.3,85.7 1235.3,83.7 1236.3,81.7 1237.3,79.7 1238.3,77.7 1239.4,75.8 1240.5,73.8 1241.7,72 1242.8,70.1 1244,68.3 1245.2,66.5 1246.5,64.7 1247.8,63 1249.1,61.3 1250.5,59.6 1251.8,57.9 1253.2,56.3 1254.7,54.8 1256.2,53.2 1257.7,51.7 1259.2,50.3 1260.8,48.8 1262.4,47.5 1264.1,46.1 1265.8,44.8 1267.5,43.5 1269.3,42.3 1271.1,41.1 1272.9,39.9 1274.8,38.8 1276.8,37.7 1278.7,36.7 1280.7,35.7 1282.8,34.8 1284.9,33.9 1287,33 1287.4,33 1287.4,35.8 1287.5,38.5 1287.5,41.3 1287.5,44.1 1287.6,46.8 1287.6,49.6 1287.6,52.3 1287.6,55 1287.7,57.8 1287.7,60.5 1287.7,63.3 1287.8,66 1287.8,68.7 1287.8,71.4 1287.8,74.2 1287.9,76.9 1287.9,79.6 1287.9,82.3 1288,85 1288,87.7 1288,90.4 1288,93.1 1288.1,95.8 1288.1,98.5 1288.1,101.2 1288.2,103.9 1288.2,106.5 1288.2,109.2 1288.2,111.9 1288.3,114.6 1288.3,117.2 1288.3,119.9 1288.4,122.6 1288.4,125.2 1288.4,127.9 1288.4,130.5 1288.5,133.2 1288.5,135.8 1288.5,138.5 1288.6,141.1 1288.6,143.7 1288.6,146.4 1288.7,149 1288.7,151.7 1288.7,154.3 1288.8,156.9 1288.8,159.5 1288.8,162.1 1288.9,164.8 1288.9,167.4 1289,170 1289,172.6 1289,175.2 1289.1,177.8 1289.1,180.4 1289.2,183 1289.2,185.6 1289.2,188.2 1289.3,190.8 1289.3,193.4 1289.4,196 1289.4,198.6 1289.5,201.1 1289.5,203.7 1289.6,206.3 1289.6,208.9 1289.7,211.4 1289.7,214 1289.8,216.6 1289.8,219.2 1289.9,221.7 1289.9,224.3 1290,226.8 1290.1,229.4 1290.1,231.9 1290.2,234.5 1290.2,237.1 1290.3,239.6 1290.4,242.1 1290.4,244.7 1290.5,247.2 1290.6,249.8 1290.7,252.3 1290.7,254.9 1290.8,257.4 1290.9,259.9 1291,262.5 1291,265 1291.1,267.5 1291.2,270 1291.3,272.6 1291.4,275.1 1291.4,277.6 1291.5,280.1 1291.6,282.6 1291.7,285.2 1291.8,287.7 1291.9,290.2 1292,292.7 1292.1,295.2 1292.2,297.7 1292.3,300.2 1292.4,302.7 1292.5,305.2 1292.6,307.7 1292.7,310.2 1292.8,312.7 1292.9,315.2 1293.1,317.7 1293.2,320.2 1293.3,322.7 1293.4,325.2 1293.5,327.7 1293.7,330.2 1293.8,332.6 1293.9,335.1 1294,337.6 1294.2,340.1 1294.3,342.6 1294.5,345.1 1294.6,347.5 1294.7,350 1294.9,352.5 1295,355 1295.2,357.4 1295.3,359.9 1295.5,362.4 1295.6,364.9 1295.8,367.3 1296,369.8 1296.1,372.3 1296.3,374.7 1296.5,377.2 1296.6,379.7 1296.8,382.1 1297,384.6 1297.2,387 1297.4,389.5 1297.6,391.9 1297.8,394.4 1298,396.8 1298.2,399.3 1298.4,401.7 1298.6,404.2 1298.9,406.6 1299.1,409.1 1299.3,411.5 1299.6,413.9 1299.8,416.4 1300.1,418.8 1300.4,421.2 1300.6,423.7 1300.9,426.1 1301.2,428.5 1301.5,430.9 1301.8,433.3 1302.1,435.8 1302.4,438.2 1302.7,440.6 1303,443 1303.4,445.4 1303.7,447.8 1304,450.2 1304.4,452.6 1304.8,455 1305.1,457.4 1305.5,459.7 1305.9,462.1 1306.3,464.5 1306.7,466.9 1307.1,469.3 1307.6,471.6 1308,474 1308.5,476.3 1308.9,478.7 1309.4,481.1 1309.9,483.4 1310.3,485.8 1310.8,488.1 1311.3,490.4 1311.9,492.8 1312.4,495.1 1312.9,497.4 1313.5,499.7 1314.1,502 1314.6,504.3 1315.2,506.6 1315.8,508.9 1316.4,511.2 1317,513.5 1317.7,515.7 1318.3,518 1319,520.2 1319.6,522.5 1320.3,524.7 1321,526.9 1321.7,529.1 1322.5,531.3 1323.2,533.5 1323.9,535.7 1324.7,537.9 1325.5,540.1 1326.3,542.2 1327.1,544.3 1327.9,546.5 1328.7,548.6 1329.6,550.7 1330.4,552.8 1331.3,554.8 1332.2,556.9 1333.1,559 1334,561" fill="none" stroke="#e00000" stroke-width="4.9" stroke-linejoin="round" stroke-linecap="butt" stroke-miterlimit="3"/>
<polyline points="1343.6,561 1343.6,558.3 1343.5,555.6 1343.5,553 1343.5,550.3 1343.5,547.7 1343.5,545 1343.5,542.3 1343.5,539.7 1343.5,537.1 1343.5,534.4 1343.5,531.8 1343.5,529.1 1343.6,526.5 1343.6,523.9 1343.6,521.3 1343.6,518.7 1343.7,516 1343.7,513.4 1343.8,510.8 1343.8,508.2 1343.8,505.6 1343.9,503 1344,500.4 1344,497.9 1344.1,495.3 1344.1,492.7 1344.2,490.1 1344.3,487.5 1344.4,485 1344.4,482.4 1344.5,479.8 1344.6,477.2 1344.7,474.7 1344.8,472.1 1344.9,469.6 1345,467 1345.1,464.5 1345.2,461.9 1345.3,459.3 1345.4,456.8 1345.5,454.3 1345.6,451.7 1345.7,449.2 1345.9,446.6 1346,444.1 1346.1,441.5 1346.3,439 1346.4,436.5 1346.5,433.9 1346.7,431.4 1346.8,428.9 1346.9,426.3 1347.1,423.8 1347.2,421.3 1347.4,418.8 1347.5,416.2 1347.7,413.7 1347.9,411.2 1348,408.7 1348.2,406.1 1348.3,403.6 1348.5,401.1 1348.7,398.6 1348.9,396 1349,393.5 1349.2,391 1349.4,388.5 1349.6,385.9 1349.8,383.4 1349.9,380.9 1350.1,378.4 1350.3,375.9 1350.5,373.3 1350.7,370.8 1350.9,368.3 1351.1,365.8 1351.3,363.2 1351.5,360.7 1351.7,358.2 1351.9,355.6 1352.1,353.1 1352.3,350.6 1352.5,348 1352.7,345.5 1353,343 1353.2,340.4 1353.4,337.9 1353.6,335.4 1353.8,332.8 1354,330.3 1354.3,327.7 1354.5,325.2 1354.7,322.6 1354.9,320.1 1355.2,317.5 1355.4,315 1355.6,312.4 1355.9,309.9 1356.1,307.3 1356.3,304.8 1356.6,302.2 1356.8,299.6 1357,297.1 1357.3,294.5 1357.5,291.9 1357.8,289.3 1358,286.7 1358.3,284.2 1358.5,281.6 1358.7,279 1359,276.4 1359.2,273.8 1359.5,271.2 1359.7,268.6 1360,266 1360.2,263.4 1360.5,260.8 1360.7,258.1 1361,255.5 1361.2,252.9 1361.5,250.3 1361.7,247.6 1362,245 1362.3,242.4 1362.5,239.7 1362.8,237.1 1363,234.4 1363.3,231.8 1363.5,229.1 1363.8,226.4 1364.1,223.8 1364.3,221.1 1364.6,218.4 1364.9,215.8 1365.2,213.1 1365.4,210.4 1365.7,207.8 1366,205.1 1366.3,202.4 1366.6,199.8 1366.9,197.1 1367.2,194.5 1367.6,191.8 1367.9,189.1 1368.2,186.5 1368.6,183.9 1368.9,181.2 1369.3,178.6 1369.7,176 1370,173.3 1370.4,170.7 1370.8,168.1 1371.2,165.5 1371.6,162.9 1372.1,160.3 1372.5,157.8 1373,155.2 1373.4,152.7 1373.9,150.1 1374.4,147.6 1374.9,145.1 1375.4,142.5 1376,140 1376.5,137.6 1377.1,135.1 1377.7,132.6 1378.3,130.2 1378.9,127.7 1379.5,125.3 1380.1,122.9 1380.8,120.5 1381.5,118.2 1382.2,115.8 1382.9,113.5 1383.6,111.1 1384.4,108.8 1385.2,106.5 1385.9,104.3 1386.8,102 1387.6,99.8 1388.4,97.6 1389.3,95.4 1390.2,93.2 1391.1,91.1 1392.1,88.9 1393,86.8 1394,84.7 1395,82.7 1396.1,80.6 1397.1,78.6 1398.2,76.6 1399.3,74.7 1400.4,72.7 1401.6,70.8 1402.8,68.9 1404,67.1 1405.2,65.2 1406.5,63.4 1407.8,61.6 1409.1,59.9 1410.5,58.2 1411.8,56.5 1413.2,54.8 1414.7,53.2 1416.1,51.6 1417.6,50 1419.2,48.5 1420.7,47 1422.3,45.6 1423.9,44.1 1425.6,42.8 1427.3,41.4 1429,40.1 1430.7,38.8 1432.5,37.6 1434.3,36.4 1436.2,35.2 1438.1,34.1 1440,33 1440.4,33 1440.4,35.5 1440.5,38 1440.5,40.5 1440.6,43 1440.6,45.6 1440.6,48.1 1440.7,50.7 1440.7,53.2 1440.7,55.8 1440.8,58.4 1440.8,61 1440.8,63.6 1440.9,66.2 1440.9,68.8 1440.9,71.4 1441,74 1441,76.7 1441,79.3 1441.1,82 1441.1,84.6 1441.1,87.3 1441.2,89.9 1441.2,92.6 1441.2,95.3 1441.3,98 1441.3,100.7 1441.3,103.4 1441.4,106 1441.4,108.7 1441.4,111.5 1441.5,114.2 1441.5,116.9 1441.5,119.6 1441.6,122.3 1441.6,125 1441.6,127.7 1441.7,130.5 1441.7,133.2 1441.7,135.9 1441.8,138.6 1441.8,141.4 1441.8,144.1 1441.9,146.8 1441.9,149.6 1441.9,152.3 1442,155 1442,157.8 1442.1,160.5 1442.1,163.2 1442.1,165.9 1442.2,168.7 1442.2,171.4 1442.2,174.1 1442.3,176.8 1442.3,179.5 1442.4,182.2 1442.4,184.9 1442.5,187.6 1442.5,190.3 1442.5,193 1442.6,195.7 1442.6,198.4 1442.7,201.1 1442.7,203.8 1442.8,206.5 1442.8,209.1 1442.9,211.8 1442.9,214.4 1442.9,217.1 1443,219.7 1443,222.4 1443.1,225 1443.2,227.6 1443.2,230.2 1443.3,232.8 1443.3,235.5 1443.4,238 1443.4,240.6 1443.5,243.2 1443.5,245.8 1443.6,248.4 1443.7,251 1443.7,253.5 1443.8,256.1 1443.8,258.6 1443.9,261.2 1444,263.7 1444,266.3 1444.1,268.8 1444.2,271.3 1444.3,273.9 1444.3,276.4 1444.4,278.9 1444.5,281.4 1444.6,283.9 1444.6,286.4 1444.7,288.9 1444.8,291.4 1444.9,293.9 1445,296.4 1445.1,298.9 1445.1,301.4 1445.2,303.9 1445.3,306.4 1445.4,308.9 1445.5,311.4 1445.6,313.8 1445.7,316.3 1445.8,318.8 1445.9,321.3 1446,323.7 1446.1,326.2 1446.2,328.7 1446.4,331.1 1446.5,333.6 1446.6,336.1 1446.7,338.5 1446.8,341 1446.9,343.5 1447.1,345.9 1447.2,348.4 1447.3,350.8 1447.5,353.3 1447.6,355.8 1447.7,358.2 1447.9,360.7 1448,363.2 1448.2,365.6 1448.3,368.1 1448.5,370.5 1448.6,373 1448.8,375.5 1448.9,377.9 1449.1,380.4 1449.3,382.9 1449.4,385.3 1449.6,387.8 1449.8,390.2 1450,392.7 1450.2,395.1 1450.4,397.6 1450.6,400.1 1450.8,402.5 1451,405 1451.2,407.4 1451.4,409.9 1451.6,412.3 1451.9,414.8 1452.1,417.2 1452.3,419.6 1452.6,422.1 1452.8,424.5 1453.1,427 1453.4,429.4 1453.6,431.8 1453.9,434.3 1454.2,436.7 1454.5,439.1 1454.8,441.5 1455.1,444 1455.4,446.4 1455.7,448.8 1456.1,451.2 1456.4,453.6 1456.7,456 1457.1,458.5 1457.5,460.9 1457.8,463.3 1458.2,465.7 1458.6,468 1459,470.4 1459.4,472.8 1459.8,475.2 1460.2,477.6 1460.7,480 1461.1,482.3 1461.5,484.7 1462,487.1 1462.5,489.4 1463,491.8 1463.4,494.1 1463.9,496.5 1464.5,498.8 1465,501.1 1465.5,503.5 1466.1,505.8 1466.6,508.1 1467.2,510.4 1467.8,512.7 1468.4,514.9 1469,517.2 1469.6,519.5 1470.2,521.7 1470.9,523.9 1471.5,526.2 1472.2,528.4 1472.9,530.6 1473.6,532.8 1474.3,535 1475,537.1 1475.8,539.3 1476.5,541.4 1477.3,543.5 1478.1,545.6 1478.9,547.7 1479.7,549.8 1480.5,551.9 1481.4,553.9 1482.2,556 1483.1,558 1484,560" fill="none" stroke="#0000e0" stroke-width="4.9" stroke-linejoin="round" stroke-linecap="butt" stroke-miterlimit="3"/>
<polyline points="1489,558 1488.9,555.2 1488.9,552.3 1488.8,549.5 1488.8,546.7 1488.8,543.9 1488.7,541.1 1488.7,538.4 1488.7,535.6 1488.7,532.8 1488.7,530.1 1488.6,527.3 1488.6,524.6 1488.6,521.9 1488.6,519.2 1488.6,516.5 1488.7,513.7 1488.7,511.1 1488.7,508.4 1488.7,505.7 1488.7,503 1488.8,500.3 1488.8,497.7 1488.8,495 1488.9,492.4 1488.9,489.7 1489,487.1 1489,484.5 1489.1,481.9 1489.2,479.2 1489.2,476.6 1489.3,474 1489.4,471.4 1489.4,468.8 1489.5,466.3 1489.6,463.7 1489.7,461.1 1489.8,458.5 1489.9,456 1490,453.4 1490.1,450.9 1490.2,448.3 1490.3,445.8 1490.4,443.2 1490.5,440.7 1490.6,438.1 1490.7,435.6 1490.9,433.1 1491,430.6 1491.1,428 1491.2,425.5 1491.4,423 1491.5,420.5 1491.6,418 1491.8,415.5 1491.9,413 1492.1,410.5 1492.2,408 1492.4,405.5 1492.5,403 1492.7,400.5 1492.8,398 1493,395.6 1493.2,393.1 1493.3,390.6 1493.5,388.1 1493.7,385.6 1493.8,383.2 1494,380.7 1494.2,378.2 1494.4,375.7 1494.6,373.3 1494.7,370.8 1494.9,368.3 1495.1,365.8 1495.3,363.4 1495.5,360.9 1495.7,358.4 1495.9,356 1496.1,353.5 1496.3,351 1496.5,348.5 1496.7,346.1 1496.9,343.6 1497.1,341.1 1497.3,338.6 1497.5,336.2 1497.7,333.7 1497.9,331.2 1498.1,328.7 1498.4,326.2 1498.6,323.8 1498.8,321.3 1499,318.8 1499.2,316.3 1499.4,313.8 1499.7,311.3 1499.9,308.8 1500.1,306.3 1500.3,303.8 1500.6,301.3 1500.8,298.8 1501,296.3 1501.2,293.8 1501.5,291.2 1501.7,288.7 1501.9,286.2 1502.2,283.7 1502.4,281.1 1502.6,278.6 1502.9,276.1 1503.1,273.5 1503.3,271 1503.6,268.4 1503.8,265.8 1504,263.3 1504.3,260.7 1504.5,258.1 1504.7,255.6 1505,253 1505.2,250.4 1505.4,247.8 1505.7,245.2 1505.9,242.6 1506.1,240 1506.4,237.4 1506.6,234.7 1506.9,232.1 1507.1,229.5 1507.3,226.8 1507.6,224.2 1507.8,221.5 1508.1,218.9 1508.3,216.2 1508.6,213.6 1508.8,210.9 1509.1,208.3 1509.4,205.6 1509.6,203 1509.9,200.3 1510.2,197.7 1510.5,195 1510.7,192.4 1511,189.7 1511.3,187.1 1511.6,184.4 1512,181.8 1512.3,179.1 1512.6,176.5 1513,173.9 1513.3,171.2 1513.7,168.6 1514,166 1514.4,163.4 1514.8,160.8 1515.2,158.2 1515.6,155.6 1516,153.1 1516.4,150.5 1516.9,147.9 1517.3,145.4 1517.8,142.9 1518.3,140.3 1518.7,137.8 1519.2,135.3 1519.8,132.8 1520.3,130.3 1520.8,127.9 1521.4,125.4 1522,123 1522.5,120.6 1523.1,118.1 1523.8,115.7 1524.4,113.4 1525,111 1525.7,108.6 1526.4,106.3 1527.1,104 1527.8,101.7 1528.6,99.4 1529.3,97.2 1530.1,94.9 1530.9,92.7 1531.7,90.5 1532.5,88.3 1533.4,86.2 1534.3,84 1535.2,81.9 1536.1,79.8 1537,77.7 1538,75.7 1539,73.7 1540,71.7 1541,69.7 1542.1,67.8 1543.2,65.8 1544.3,64 1545.4,62.1 1546.6,60.3 1547.9,58.5 1549.1,56.8 1550.4,55.1 1551.7,53.4 1553.1,51.8 1554.5,50.2 1555.9,48.6 1557.4,47.1 1559,45.7 1560.5,44.3 1562.2,42.9 1563.8,41.6 1565.5,40.3 1567.3,39.1 1569.1,38 1571,36.9 1572.9,35.8 1574.9,34.8 1576.9,33.9 1579,33 1580.4,32.5 1580.4,29.5 1580.4,32.5 1580.4,35.1 1580.4,37.8 1580.4,40.5 1580.4,43.1 1580.5,45.8 1580.5,48.5 1580.5,51.1 1580.5,53.8 1580.5,56.5 1580.5,59.2 1580.6,61.9 1580.6,64.6 1580.6,67.3 1580.6,70 1580.6,72.8 1580.7,75.5 1580.7,78.2 1580.7,80.9 1580.7,83.7 1580.8,86.4 1580.8,89.1 1580.8,91.9 1580.8,94.6 1580.9,97.3 1580.9,100.1 1580.9,102.8 1581,105.6 1581,108.3 1581,111.1 1581.1,113.8 1581.1,116.6 1581.1,119.3 1581.1,122.1 1581.2,124.8 1581.2,127.6 1581.3,130.3 1581.3,133.1 1581.3,135.8 1581.4,138.6 1581.4,141.3 1581.4,144.1 1581.5,146.8 1581.5,149.6 1581.6,152.3 1581.6,155.1 1581.6,157.8 1581.7,160.5 1581.7,163.3 1581.8,166 1581.8,168.7 1581.8,171.4 1581.9,174.2 1581.9,176.9 1582,179.6 1582,182.3 1582.1,185 1582.1,187.7 1582.1,190.4 1582.2,193.1 1582.2,195.8 1582.3,198.5 1582.3,201.1 1582.4,203.8 1582.4,206.5 1582.5,209.1 1582.5,211.8 1582.6,214.4 1582.6,217.1 1582.6,219.7 1582.7,222.3 1582.7,224.9 1582.8,227.5 1582.8,230.1 1582.9,232.7 1582.9,235.3 1583,237.9 1583,240.5 1583.1,243 1583.1,245.6 1583.2,248.1 1583.2,250.7 1583.3,253.2 1583.3,255.7 1583.4,258.2 1583.4,260.8 1583.5,263.3 1583.5,265.8 1583.6,268.2 1583.6,270.7 1583.7,273.2 1583.8,275.7 1583.8,278.2 1583.9,280.6 1583.9,283.1 1584,285.5 1584.1,288 1584.1,290.4 1584.2,292.9 1584.3,295.3 1584.3,297.8 1584.4,300.2 1584.5,302.6 1584.5,305 1584.6,307.5 1584.7,309.9 1584.8,312.3 1584.9,314.7 1584.9,317.2 1585,319.6 1585.1,322 1585.2,324.4 1585.3,326.8 1585.4,329.2 1585.5,331.6 1585.6,334 1585.7,336.5 1585.8,338.9 1585.9,341.3 1586,343.7 1586.1,346.1 1586.2,348.5 1586.4,350.9 1586.5,353.4 1586.6,355.8 1586.7,358.2 1586.9,360.6 1587,363.1 1587.1,365.5 1587.3,367.9 1587.4,370.4 1587.6,372.8 1587.7,375.2 1587.9,377.7 1588,380.1 1588.2,382.5 1588.4,385 1588.5,387.4 1588.7,389.9 1588.9,392.3 1589.1,394.7 1589.3,397.2 1589.5,399.6 1589.7,402.1 1589.9,404.5 1590.1,407 1590.3,409.4 1590.6,411.8 1590.8,414.3 1591,416.7 1591.3,419.2 1591.5,421.6 1591.8,424 1592,426.5 1592.3,428.9 1592.6,431.4 1592.9,433.8 1593.2,436.2 1593.4,438.7 1593.7,441.1 1594.1,443.5 1594.4,445.9 1594.7,448.4 1595,450.8 1595.4,453.2 1595.7,455.6 1596.1,458.1 1596.4,460.5 1596.8,462.9 1597.2,465.3 1597.6,467.7 1598,470.1 1598.4,472.5 1598.8,474.9 1599.2,477.3 1599.6,479.7 1600.1,482.1 1600.5,484.5 1601,486.9 1601.4,489.2 1601.9,491.6 1602.4,494 1602.9,496.3 1603.4,498.7 1603.9,501 1604.4,503.4 1605,505.7 1605.5,508 1606.1,510.3 1606.6,512.6 1607.2,514.9 1607.8,517.2 1608.4,519.5 1609,521.7 1609.6,524 1610.3,526.2 1610.9,528.4 1611.5,530.6 1612.2,532.8 1612.9,535 1613.6,537.2 1614.3,539.3 1615,541.5 1615.7,543.6 1616.5,545.7 1617.2,547.8 1618,549.9 1618.8,551.9 1619.6,554 1620.4,556 1621.2,558 1622,560" fill="none" stroke="#808000" stroke-width="4.7" stroke-linejoin="round" stroke-linecap="butt" stroke-miterlimit="3"/>
</g>
<line x1="988.3" y1="9.8" x2="988.3" y2="566.9" stroke="#555" stroke-width="2.4"/>
<line x1="987.1" y1="565.8" x2="1676.8" y2="565.8" stroke="#333" stroke-width="2.2"/>
<line x1="987.1" y1="10.6" x2="1676.8" y2="10.6" stroke="#222" stroke-width="1.5"/>
<line x1="1676" y1="10.6" x2="1676" y2="565.8" stroke="#222" stroke-width="1.5"/>
<line x1="977.3" y1="559.3" x2="988.3" y2="559.3" stroke="#222" stroke-width="2.0"/>
<line x1="977.3" y1="454.2" x2="988.3" y2="454.2" stroke="#222" stroke-width="2.0"/>
<line x1="977.3" y1="349" x2="988.3" y2="349" stroke="#222" stroke-width="2.0"/>
<line x1="977.3" y1="244.4" x2="988.3" y2="244.4" stroke="#222" stroke-width="2.0"/>
<line x1="977.3" y1="139.3" x2="988.3" y2="139.3" stroke="#222" stroke-width="2.0"/>
<line x1="977.3" y1="32" x2="988.3" y2="32" stroke="#222" stroke-width="2.0"/>
<line x1="983.8" y1="506.8" x2="988.3" y2="506.8" stroke="#222" stroke-width="2.0"/>
<line x1="983.8" y1="401.6" x2="988.3" y2="401.6" stroke="#222" stroke-width="2.0"/>
<line x1="983.8" y1="296.7" x2="988.3" y2="296.7" stroke="#222" stroke-width="2.0"/>
<line x1="983.8" y1="191.9" x2="988.3" y2="191.9" stroke="#222" stroke-width="2.0"/>
<line x1="983.8" y1="85.7" x2="988.3" y2="85.7" stroke="#222" stroke-width="2.0"/>
<line x1="988.3" y1="565.8" x2="988.3" y2="576.3" stroke="#333" stroke-width="2.0"/>
<line x1="1125.8" y1="565.8" x2="1125.8" y2="576.3" stroke="#333" stroke-width="2.0"/>
<line x1="1263.2" y1="565.8" x2="1263.2" y2="576.3" stroke="#333" stroke-width="2.0"/>
<line x1="1400.7" y1="565.8" x2="1400.7" y2="576.3" stroke="#333" stroke-width="2.0"/>
<line x1="1538.1" y1="565.8" x2="1538.1" y2="576.3" stroke="#333" stroke-width="2.0"/>
<line x1="1675.6" y1="565.8" x2="1675.6" y2="576.3" stroke="#333" stroke-width="2.0"/>
<line x1="1057" y1="565.8" x2="1057" y2="570.8" stroke="#333" stroke-width="2.0"/>
<line x1="1194.5" y1="565.8" x2="1194.5" y2="570.8" stroke="#333" stroke-width="2.0"/>
<line x1="1331.9" y1="565.8" x2="1331.9" y2="570.8" stroke="#333" stroke-width="2.0"/>
<line x1="1469.4" y1="565.8" x2="1469.4" y2="570.8" stroke="#333" stroke-width="2.0"/>
<line x1="1606.9" y1="565.8" x2="1606.9" y2="570.8" stroke="#333" stroke-width="2.0"/>
<text x="909.85" y="570.17" font-size="43" letter-spacing="-0.20" fill="#000">0.0</text>
<text x="910.28" y="465.07" font-size="43" letter-spacing="-0.20" fill="#000">0.2</text>
<text x="909.42" y="359.87" font-size="43" letter-spacing="-0.20" fill="#000">0.4</text>
<text x="909.85" y="255.27" font-size="43" letter-spacing="-0.20" fill="#000">0.6</text>
<text x="909.85" y="150.17" font-size="43" letter-spacing="-0.20" fill="#000">0.8</text>
<text x="909.85" y="42.87" font-size="43" letter-spacing="-0.20" fill="#000">1.0</text>
<text x="976.97" y="611.22" font-size="37.6" letter-spacing="-0.60" fill="#000">0</text>
<text x="1093.41" y="611.22" font-size="37.6" letter-spacing="-0.60" fill="#000">100</text>
<text x="1231.44" y="611.22" font-size="37.6" letter-spacing="-0.60" fill="#000">200</text>
<text x="1369.08" y="611.22" font-size="37.6" letter-spacing="-0.60" fill="#000">300</text>
<text x="1506.92" y="611.22" font-size="37.6" letter-spacing="-0.60" fill="#000">400</text>
<text x="1644.00" y="611.22" font-size="37.6" letter-spacing="-0.60" fill="#000">500</text>
<text x="1236.01" y="668.50" font-size="49.4" letter-spacing="1.80" fill="#000">Time (s)</text>
<text x="886.00" y="419.19" font-size="49.4" letter-spacing="1.90" fill="#000" transform="rotate(-90 886.00 419.19)">Voltage (V)</text>
<text x="851.01" y="52.00" font-size="49.9" letter-spacing="1.70" fill="#000">(b)</text>
<text x="1072.00" y="532.92" font-size="28.4" letter-spacing="0.12" fill="#222" transform="rotate(-90 1072.00 532.92)">Cycle 1</text>
<text x="1252.00" y="542.42" font-size="28.4" letter-spacing="0.12" fill="#222" transform="rotate(-90 1252.00 542.42)">Cycle 1000</text>
<text x="1411.00" y="533.42" font-size="28.4" letter-spacing="0.12" fill="#222" transform="rotate(-90 1411.00 533.42)">Cycle 2000</text>
<text x="1548.00" y="532.42" font-size="28.4" letter-spacing="0.12" fill="#222" transform="rotate(-90 1548.00 532.42)">Cycle 3000</text>
<clipPath id="cp3"><rect x="141.6" y="704" width="687" height="554"/></clipPath><g clip-path="url(#cp3)">
<polyline points="141.2,1258 141.2,1214 143.3,1212 143.3,1208.8 143.3,1205.7 143.3,1202.5 143.3,1199.4 143.3,1196.3 143.3,1193.1 143.3,1190 143.3,1186.9 143.3,1183.8 143.3,1180.7 143.3,1177.7 143.3,1174.6 143.3,1171.5 143.3,1168.5 143.3,1165.4 143.3,1162.4 143.3,1159.3 143.3,1156.3 143.3,1153.3 143.3,1150.3 143.3,1147.3 143.3,1144.3 143.3,1141.3 143.3,1138.3 143.3,1135.3 143.4,1132.3 143.4,1129.3 143.4,1126.3 143.4,1123.4 143.4,1120.4 143.4,1117.4 143.4,1114.5 143.4,1111.5 143.5,1108.5 143.5,1105.6 143.5,1102.6 143.5,1099.7 143.5,1096.7 143.5,1093.8 143.5,1090.8 143.6,1087.9 143.6,1084.9 143.6,1082 143.6,1079 143.6,1076.1 143.6,1073.1 143.6,1070.2 143.7,1067.2 143.7,1064.3 143.7,1061.3 143.7,1058.4 143.7,1055.4 143.7,1052.4 143.7,1049.5 143.7,1046.5 143.7,1043.5 143.8,1040.6 143.8,1037.6 143.8,1034.6 143.8,1031.6 143.8,1028.6 143.8,1025.6 143.8,1022.6 143.8,1019.6 143.8,1016.6 143.8,1013.6 143.8,1010.6 143.8,1007.6 143.8,1004.5 143.8,1001.5 143.8,998.4 143.8,995.4 143.8,992.3 143.8,989.3 143.8,986.2 143.8,983.1 143.8,980.1 143.8,977 143.8,973.9 143.8,970.9 143.8,967.8 143.8,964.8 143.7,961.7 143.7,958.7 143.7,955.7 143.7,952.6 143.7,949.6 143.7,946.6 143.7,943.6 143.7,940.7 143.8,937.7 143.8,934.8 143.8,931.8 143.8,928.9 143.8,926.1 143.8,923.2 143.8,920.4 143.9,917.5 143.9,914.8 143.9,912 143.9,909.2 144,906.5 144,903.9 144.1,901.2 144.1,898.6 144.2,896 144.2,893.4 144.3,890.9 144.3,888.4 144.4,885.9 144.5,883.5 144.5,881 144.6,878.6 144.7,876.2 144.7,873.8 144.8,871.5 144.9,869.1 144.9,866.8 145,864.5 145.1,862.1 145.1,859.8 145.2,857.6 145.3,855.3 145.3,853 145.4,850.7 145.5,848.4 145.5,846.1 145.6,843.9 145.6,841.6 145.7,839.3 145.7,837 145.7,834.7 145.8,832.4 145.8,830.1 145.8,827.8 145.9,825.5 145.9,823.2 145.9,820.9 146,818.6 146,816.2 146.1,813.9 146.1,811.6 146.2,809.3 146.3,807 146.3,804.7 146.4,802.4 146.5,800.2 146.6,797.9 146.7,795.6 146.9,793.4 147,791.1 147.2,788.9 147.4,786.6 147.5,784.4 147.8,782.2 148,780 148.2,777.8 148.5,775.7 148.8,773.5 149.1,771.4 149.5,769.3 149.8,767.2 150.2,765.1 150.6,763.1 151.1,761.1 151.6,759.1 152.1,757.1 152.6,755.1 153.2,753.2 153.8,751.3 154.5,749.5 155.3,747.7 156,745.9 156.9,744.2 157.7,742.5 158.7,740.9 159.7,739.3 160.8,737.7 161.9,736.3 163.1,734.8 164.3,733.5 165.6,732.1 167,730.9 168.4,729.6 169.8,728.5 171.4,727.4 172.9,726.3 174.5,725.3 176.2,724.4 177.8,723.5 179.6,722.7 181.4,721.9 183.2,721.2 185,720.6 186.9,720 188.8,719.5 190.8,719 192.7,718.6 194.7,718.2 196.8,717.9 198.8,717.6 200.9,717.4 203,717.1 205.1,717 207.3,716.8 209.4,716.7 211.6,716.6 213.8,716.5 215.9,716.4 218.1,716.3 220.3,716.3 222.5,716.2 224.7,716.1 226.9,716.1 229.1,716 231.3,715.9 233.5,715.9 235.7,715.8 237.9,715.7 240.1,715.6 242.3,715.6 244.5,715.5 246.7,715.4 248.8,715.3 251,715.2 253.2,715.2 255.3,715.1 257.5,715 259.6,714.8 261.7,714.7 263.8,714.6 266,714.5 268,714.3 270.1,714.2 272.2,714 274.2,713.9 276.3,713.7 278.3,713.5 280.3,713.3 282.3,713.1 284.2,712.9 286.2,712.7 288.1,712.5 290,712.2 314.2,712 314.2,712 314.2,714.6 314.2,717.2 314.2,719.8 314.2,722.4 314.2,725.1 314.2,727.7 314.2,730.3 314.2,733 314.2,735.6 314.2,738.3 314.2,740.9 314.1,743.6 314.1,746.2 314.1,748.9 314.1,751.6 314.2,754.2 314.2,756.9 314.2,759.6 314.2,762.3 314.2,765 314.2,767.6 314.2,770.3 314.2,773 314.2,775.7 314.2,778.4 314.2,781.1 314.2,783.8 314.2,786.5 314.2,789.2 314.2,791.9 314.2,794.5 314.3,797.2 314.3,799.9 314.3,802.6 314.3,805.3 314.3,808 314.3,810.7 314.3,813.3 314.4,816 314.4,818.7 314.4,821.4 314.4,824.1 314.4,826.7 314.5,829.4 314.5,832.1 314.5,834.7 314.5,837.4 314.5,840 314.6,842.7 314.6,845.3 314.6,848 314.6,850.6 314.7,853.2 314.7,855.9 314.7,858.5 314.8,861.1 314.8,863.8 314.8,866.4 314.9,869 314.9,871.6 314.9,874.2 315,876.8 315,879.4 315,881.9 315.1,884.5 315.1,887.1 315.1,889.6 315.2,892.2 315.2,894.8 315.3,897.3 315.3,899.8 315.3,902.4 315.4,904.9 315.4,907.4 315.5,909.9 315.5,912.4 315.6,914.9 315.6,917.4 315.6,919.9 315.7,922.4 315.7,924.9 315.8,927.4 315.8,929.8 315.9,932.3 315.9,934.8 316,937.2 316,939.7 316.1,942.1 316.1,944.6 316.2,947 316.2,949.5 316.3,951.9 316.3,954.3 316.4,956.8 316.4,959.2 316.5,961.6 316.5,964.1 316.6,966.5 316.6,968.9 316.7,971.4 316.7,973.8 316.8,976.2 316.8,978.6 316.9,981.1 316.9,983.5 317,985.9 317,988.4 317.1,990.8 317.1,993.2 317.2,995.6 317.2,998.1 317.3,1000.5 317.3,1003 317.4,1005.4 317.4,1007.8 317.5,1010.3 317.5,1012.7 317.6,1015.2 317.6,1017.6 317.7,1020.1 317.7,1022.6 317.8,1025 317.8,1027.5 317.9,1029.9 317.9,1032.4 317.9,1034.9 318,1037.4 318,1039.8 318.1,1042.3 318.1,1044.8 318.2,1047.3 318.2,1049.7 318.2,1052.2 318.3,1054.7 318.3,1057.2 318.4,1059.7 318.4,1062.2 318.4,1064.7 318.5,1067.2 318.5,1069.6 318.6,1072.1 318.6,1074.6 318.6,1077.1 318.7,1079.6 318.7,1082.1 318.7,1084.6 318.8,1087.1 318.8,1089.6 318.9,1092.1 318.9,1094.6 318.9,1097.1 319,1099.6 319,1102.1 319,1104.6 319.1,1107.1 319.1,1109.6 319.1,1112 319.2,1114.5 319.2,1117 319.2,1119.5 319.3,1122 319.3,1124.5 319.3,1127 319.4,1129.5 319.4,1132 319.4,1134.4 319.5,1136.9 319.5,1139.4 319.5,1141.9 319.6,1144.4 319.6,1146.8 319.6,1149.3 319.6,1151.8 319.7,1154.2 319.7,1156.7 319.7,1159.2 319.8,1161.6 319.8,1164.1 319.8,1166.5 319.9,1169 319.9,1171.4 319.9,1173.9 320,1176.3 320,1178.8 320,1181.2 320,1183.6 320.1,1186.1 320.1,1188.5 320.1,1190.9 320.2,1193.4 320.2,1195.8 320.2,1198.2 320.3,1200.6 320.3,1203 320.3,1205.4 320.4,1207.8 320.4,1210.2 320.4,1212.6 320.4,1215 320.5,1217.3 320.5,1219.7 320.5,1222.1 320.6,1224.4 320.6,1226.8 320.6,1229.2 320.7,1231.5 320.7,1233.9 320.7,1236.2 320.7,1238.5 320.8,1240.9 320.8,1243.2 320.8,1245.5 320.9,1247.8 320.9,1250.1 320.9,1252.4 321,1254.7 321,1257" fill="none" stroke="#000000" stroke-width="4.9" stroke-linejoin="round" stroke-linecap="butt" stroke-miterlimit="3"/>
<polyline points="322.4,1257 322.4,1254.2 322.4,1251.4 322.4,1248.5 322.4,1245.7 322.4,1242.9 322.4,1240 322.4,1237.2 322.4,1234.3 322.5,1231.5 322.5,1228.6 322.5,1225.8 322.5,1222.9 322.5,1220 322.5,1217.2 322.5,1214.3 322.6,1211.4 322.6,1208.6 322.6,1205.7 322.6,1202.8 322.6,1199.9 322.6,1197 322.7,1194.2 322.7,1191.3 322.7,1188.4 322.7,1185.5 322.8,1182.6 322.8,1179.7 322.8,1176.8 322.8,1173.9 322.9,1171 322.9,1168.1 322.9,1165.2 322.9,1162.3 323,1159.4 323,1156.5 323,1153.6 323.1,1150.6 323.1,1147.7 323.1,1144.8 323.2,1141.9 323.2,1139 323.2,1136.1 323.2,1133.2 323.3,1130.3 323.3,1127.4 323.3,1124.4 323.4,1121.5 323.4,1118.6 323.4,1115.7 323.5,1112.8 323.5,1109.9 323.5,1107 323.6,1104.1 323.6,1101.2 323.7,1098.2 323.7,1095.3 323.7,1092.4 323.8,1089.5 323.8,1086.6 323.8,1083.7 323.9,1080.8 323.9,1077.9 323.9,1075 324,1072.1 324,1069.2 324,1066.4 324.1,1063.5 324.1,1060.6 324.1,1057.7 324.2,1054.8 324.2,1051.9 324.2,1049.1 324.3,1046.2 324.3,1043.3 324.3,1040.4 324.4,1037.6 324.4,1034.7 324.4,1031.9 324.5,1029 324.5,1026.1 324.5,1023.3 324.6,1020.4 324.6,1017.6 324.6,1014.8 324.7,1011.9 324.7,1009.1 324.7,1006.3 324.8,1003.5 324.8,1000.6 324.8,997.8 324.8,995 324.9,992.2 324.9,989.4 324.9,986.7 325,983.9 325,981.1 325,978.4 325.1,975.6 325.1,972.9 325.2,970.1 325.2,967.4 325.2,964.7 325.3,962 325.3,959.3 325.4,956.6 325.4,953.9 325.5,951.3 325.5,948.6 325.6,946 325.6,943.3 325.7,940.7 325.7,938.1 325.8,935.5 325.8,933 325.9,930.4 326,927.8 326.1,925.3 326.1,922.8 326.2,920.3 326.3,917.8 326.4,915.3 326.4,912.8 326.5,910.4 326.6,908 326.7,905.6 326.8,903.2 326.9,900.8 327,898.4 327.1,896 327.3,893.7 327.4,891.4 327.5,889 327.6,886.7 327.8,884.4 327.9,882.1 328,879.9 328.2,877.6 328.3,875.3 328.5,873.1 328.6,870.8 328.8,868.6 329,866.4 329.2,864.1 329.3,861.9 329.5,859.7 329.7,857.5 329.9,855.3 330.1,853.1 330.3,850.9 330.6,848.7 330.8,846.5 331,844.3 331.3,842.1 331.5,840 331.8,837.8 332,835.6 332.3,833.4 332.6,831.2 332.8,829.1 333.1,826.9 333.4,824.7 333.7,822.5 334.1,820.3 334.4,818.1 334.7,815.9 335.1,813.7 335.4,811.5 335.8,809.3 336.1,807.1 336.5,804.9 337,802.8 337.4,800.6 337.8,798.4 338.3,796.2 338.8,794.1 339.3,791.9 339.8,789.8 340.4,787.7 341,785.6 341.6,783.5 342.2,781.4 342.9,779.4 343.6,777.3 344.3,775.3 345.1,773.3 345.9,771.3 346.7,769.3 347.5,767.4 348.4,765.5 349.4,763.6 350.4,761.8 351.4,759.9 352.5,758.1 353.6,756.4 354.7,754.6 355.9,752.9 357.1,751.2 358.4,749.6 359.7,748 361.1,746.4 362.5,744.9 363.9,743.3 365.4,741.9 367,740.4 368.5,739 370.1,737.6 371.8,736.3 373.5,734.9 375.2,733.7 376.9,732.4 378.7,731.2 380.5,730 382.3,728.8 384.2,727.7 386.1,726.6 388,725.6 389.9,724.6 391.8,723.6 393.8,722.7 395.7,721.8 397.7,720.9 399.7,720 401.7,719.2 403.7,718.5 405.8,717.7 407.8,717.1 409.8,716.4 411.9,715.8 413.9,715.2 415.9,714.7 418,714.1 420,713.7 422,713.2 424,712.9 426,712.5 428,712.2 430,711.9 472.4,711.6 472.4,711.6 472.4,714.4 472.4,717.2 472.5,720 472.5,722.8 472.5,725.6 472.6,728.4 472.6,731.1 472.6,733.9 472.6,736.7 472.7,739.4 472.7,742.1 472.7,744.9 472.8,747.6 472.8,750.3 472.8,753.1 472.9,755.8 472.9,758.5 472.9,761.2 473,763.9 473,766.6 473,769.3 473.1,771.9 473.1,774.6 473.2,777.3 473.2,779.9 473.2,782.6 473.3,785.3 473.3,787.9 473.4,790.5 473.4,793.2 473.5,795.8 473.5,798.4 473.6,801.1 473.6,803.7 473.7,806.3 473.7,808.9 473.8,811.5 473.8,814.1 473.9,816.7 473.9,819.3 474,821.9 474,824.5 474.1,827 474.1,829.6 474.2,832.2 474.2,834.8 474.3,837.3 474.4,839.9 474.4,842.4 474.5,845 474.5,847.5 474.6,850.1 474.7,852.6 474.7,855.2 474.8,857.7 474.9,860.2 474.9,862.8 475,865.3 475.1,867.8 475.1,870.3 475.2,872.9 475.3,875.4 475.4,877.9 475.4,880.4 475.5,882.9 475.6,885.4 475.6,887.9 475.7,890.4 475.8,892.9 475.9,895.4 476,897.9 476,900.4 476.1,902.9 476.2,905.4 476.3,907.9 476.4,910.4 476.4,912.9 476.5,915.3 476.6,917.8 476.7,920.3 476.8,922.8 476.9,925.3 477,927.7 477.1,930.2 477.1,932.7 477.2,935.2 477.3,937.6 477.4,940.1 477.5,942.6 477.6,945.1 477.7,947.5 477.8,950 477.9,952.5 478,954.9 478.1,957.4 478.2,959.9 478.3,962.4 478.4,964.8 478.5,967.3 478.6,969.8 478.7,972.2 478.8,974.7 478.9,977.2 479,979.6 479.1,982.1 479.3,984.6 479.4,987.1 479.5,989.5 479.6,992 479.7,994.5 479.8,997 479.9,999.4 480,1001.9 480.2,1004.4 480.3,1006.9 480.4,1009.4 480.5,1011.8 480.6,1014.3 480.8,1016.8 480.9,1019.3 481,1021.8 481.1,1024.3 481.3,1026.8 481.4,1029.3 481.5,1031.8 481.6,1034.2 481.8,1036.7 481.9,1039.3 482,1041.8 482.2,1044.3 482.3,1046.8 482.4,1049.3 482.6,1051.8 482.7,1054.3 482.8,1056.8 483,1059.3 483.1,1061.9 483.3,1064.4 483.4,1066.9 483.5,1069.4 483.7,1072 483.8,1074.5 484,1077 484.1,1079.5 484.3,1082.1 484.4,1084.6 484.5,1087.1 484.7,1089.6 484.8,1092.2 485,1094.7 485.1,1097.2 485.3,1099.8 485.4,1102.3 485.6,1104.8 485.7,1107.3 485.8,1109.9 486,1112.4 486.1,1114.9 486.3,1117.4 486.4,1119.9 486.6,1122.5 486.7,1125 486.9,1127.5 487,1130 487.1,1132.5 487.3,1135 487.4,1137.5 487.6,1140 487.7,1142.5 487.9,1145 488,1147.5 488.1,1150 488.3,1152.5 488.4,1155 488.6,1157.5 488.7,1160 488.8,1162.4 489,1164.9 489.1,1167.4 489.2,1169.8 489.4,1172.3 489.5,1174.8 489.6,1177.2 489.8,1179.7 489.9,1182.1 490,1184.5 490.1,1187 490.3,1189.4 490.4,1191.8 490.5,1194.2 490.6,1196.6 490.8,1199 490.9,1201.4 491,1203.8 491.1,1206.2 491.2,1208.6 491.3,1211 491.4,1213.4 491.6,1215.7 491.7,1218.1 491.8,1220.4 491.9,1222.8 492,1225.1 492.1,1227.4 492.2,1229.8 492.3,1232.1 492.4,1234.4 492.5,1236.7 492.6,1239 492.6,1241.2 492.7,1243.5 492.8,1245.8 492.9,1248.1 493,1250.3 493.1,1252.5 493.1,1254.8 493.2,1257" fill="none" stroke="#e00000" stroke-width="4.9" stroke-linejoin="round" stroke-linecap="butt" stroke-miterlimit="3"/>
<polyline points="495.2,1257 495.2,1254.3 495.2,1251.6 495.2,1248.8 495.3,1246.1 495.3,1243.3 495.3,1240.5 495.3,1237.8 495.3,1235 495.3,1232.2 495.3,1229.4 495.4,1226.6 495.4,1223.8 495.4,1221 495.4,1218.2 495.4,1215.4 495.5,1212.6 495.5,1209.8 495.5,1206.9 495.5,1204.1 495.5,1201.3 495.6,1198.5 495.6,1195.7 495.6,1192.9 495.6,1190.1 495.7,1187.3 495.7,1184.5 495.7,1181.7 495.8,1178.9 495.8,1176.1 495.8,1173.3 495.9,1170.5 495.9,1167.8 496,1165 496,1162.3 496.1,1159.5 496.1,1156.8 496.2,1154.1 496.2,1151.4 496.3,1148.7 496.3,1146 496.4,1143.3 496.4,1140.7 496.5,1138 496.6,1135.4 496.6,1132.8 496.7,1130.2 496.8,1127.6 496.8,1125 496.9,1122.4 497,1119.8 497.1,1117.2 497.1,1114.6 497.2,1112 497.3,1109.4 497.3,1106.7 497.4,1104.1 497.5,1101.4 497.5,1098.8 497.6,1096.1 497.6,1093.4 497.7,1090.6 497.7,1087.9 497.8,1085.2 497.8,1082.4 497.9,1079.6 497.9,1076.8 497.9,1074 498,1071.2 498,1068.3 498,1065.5 498.1,1062.7 498.1,1059.8 498.1,1056.9 498.1,1054.1 498.2,1051.2 498.2,1048.3 498.2,1045.4 498.2,1042.5 498.2,1039.6 498.3,1036.7 498.3,1033.7 498.3,1030.8 498.3,1027.9 498.3,1025 498.4,1022.1 498.4,1019.2 498.4,1016.2 498.4,1013.3 498.4,1010.4 498.5,1007.5 498.5,1004.6 498.5,1001.7 498.5,998.8 498.6,995.9 498.6,993 498.6,990.1 498.7,987.2 498.7,984.3 498.7,981.5 498.8,978.6 498.8,975.8 498.8,972.9 498.9,970.1 498.9,967.3 499,964.5 499,961.7 499.1,959 499.1,956.2 499.2,953.4 499.3,950.7 499.3,948 499.4,945.3 499.5,942.6 499.5,939.9 499.6,937.2 499.7,934.5 499.8,931.9 499.8,929.3 499.9,926.6 500,924 500.1,921.4 500.2,918.8 500.3,916.2 500.4,913.7 500.4,911.1 500.5,908.6 500.6,906 500.7,903.5 500.8,901 500.9,898.5 501.1,896 501.2,893.6 501.3,891.1 501.4,888.7 501.5,886.2 501.6,883.8 501.7,881.4 501.8,879 502,876.6 502.1,874.2 502.2,871.9 502.3,869.5 502.5,867.2 502.6,864.9 502.7,862.5 502.8,860.2 503,857.9 503.1,855.7 503.3,853.4 503.4,851.1 503.5,848.9 503.7,846.6 503.9,844.4 504,842.2 504.2,839.9 504.4,837.7 504.6,835.5 504.8,833.3 505,831.1 505.2,828.8 505.4,826.6 505.7,824.4 506,822.2 506.2,820 506.5,817.8 506.9,815.5 507.2,813.3 507.6,811.1 507.9,808.9 508.3,806.6 508.7,804.4 509.2,802.2 509.6,800 510.1,797.8 510.6,795.6 511.1,793.4 511.7,791.3 512.3,789.1 512.9,786.9 513.5,784.8 514.2,782.7 514.9,780.6 515.6,778.5 516.3,776.4 517.1,774.3 518,772.3 518.8,770.3 519.7,768.3 520.6,766.3 521.6,764.3 522.6,762.4 523.6,760.5 524.7,758.6 525.8,756.8 526.9,755 528.1,753.2 529.3,751.4 530.6,749.7 531.9,748 533.2,746.3 534.6,744.7 536.1,743.1 537.6,741.6 539.1,740 540.7,738.6 542.3,737.1 544,735.7 545.7,734.4 547.4,733.1 549.2,731.8 551,730.6 552.9,729.4 554.7,728.2 556.7,727.1 558.6,726 560.5,724.9 562.5,723.9 564.5,723 566.5,722 568.6,721.1 570.6,720.3 572.6,719.4 574.7,718.6 576.7,717.9 578.8,717.2 580.9,716.5 582.9,715.8 585,715.2 587,714.6 589,714.1 591.1,713.6 593.1,713.1 595.1,712.7 597,712.3 599,711.9 637.4,711.6 637.4,711.6 637.4,714.2 637.4,716.8 637.5,719.4 637.5,722 637.5,724.6 637.6,727.1 637.6,729.7 637.7,732.3 637.7,734.9 637.7,737.5 637.8,740.1 637.8,742.7 637.9,745.2 637.9,747.8 638,750.4 638,753 638.1,755.6 638.2,758.1 638.2,760.7 638.3,763.3 638.3,765.9 638.4,768.5 638.5,771 638.5,773.6 638.6,776.2 638.7,778.8 638.7,781.3 638.8,783.9 638.9,786.5 639,789.1 639,791.7 639.1,794.2 639.2,796.8 639.3,799.4 639.4,802 639.4,804.5 639.5,807.1 639.6,809.7 639.7,812.3 639.8,814.8 639.8,817.4 639.9,820 640,822.6 640.1,825.1 640.2,827.7 640.3,830.3 640.3,832.9 640.4,835.5 640.5,838 640.6,840.6 640.7,843.2 640.8,845.8 640.8,848.4 640.9,851 641,853.5 641.1,856.1 641.2,858.7 641.3,861.3 641.3,863.9 641.4,866.5 641.5,869.1 641.6,871.6 641.7,874.2 641.7,876.8 641.8,879.4 641.9,882 642,884.6 642.1,887.2 642.1,889.8 642.2,892.4 642.3,895 642.4,897.6 642.4,900.2 642.5,902.8 642.6,905.4 642.7,908 642.7,910.6 642.8,913.2 642.9,915.8 642.9,918.4 643,921 643.1,923.5 643.2,926.1 643.2,928.7 643.3,931.3 643.4,933.9 643.5,936.5 643.5,939.1 643.6,941.7 643.7,944.3 643.8,946.9 643.8,949.5 643.9,952.1 644,954.6 644.1,957.2 644.2,959.8 644.2,962.4 644.3,965 644.4,967.6 644.5,970.1 644.6,972.7 644.7,975.3 644.7,977.9 644.8,980.4 644.9,983 645,985.6 645.1,988.1 645.2,990.7 645.3,993.3 645.4,995.8 645.5,998.4 645.6,1000.9 645.7,1003.5 645.8,1006 645.9,1008.6 646,1011.1 646.1,1013.7 646.2,1016.2 646.3,1018.7 646.4,1021.3 646.5,1023.8 646.6,1026.3 646.7,1028.8 646.9,1031.4 647,1033.9 647.1,1036.4 647.2,1038.9 647.4,1041.4 647.5,1043.9 647.6,1046.4 647.7,1048.9 647.9,1051.4 648,1053.9 648.2,1056.4 648.3,1058.8 648.4,1061.3 648.6,1063.8 648.7,1066.3 648.9,1068.7 649,1071.2 649.1,1073.6 649.3,1076.1 649.4,1078.5 649.6,1081 649.7,1083.4 649.9,1085.9 650,1088.3 650.2,1090.7 650.3,1093.1 650.5,1095.6 650.7,1098 650.8,1100.4 651,1102.8 651.1,1105.2 651.3,1107.6 651.4,1110 651.6,1112.4 651.8,1114.8 651.9,1117.1 652.1,1119.5 652.2,1121.9 652.4,1124.2 652.5,1126.6 652.7,1128.9 652.9,1131.3 653,1133.6 653.2,1136 653.3,1138.3 653.5,1140.6 653.7,1142.9 653.8,1145.3 654,1147.6 654.1,1149.9 654.3,1152.2 654.4,1154.5 654.6,1156.8 654.7,1159.1 654.9,1161.4 655,1163.8 655.2,1166.1 655.3,1168.4 655.4,1170.7 655.6,1173.1 655.7,1175.4 655.8,1177.8 656,1180.2 656.1,1182.5 656.2,1184.9 656.3,1187.3 656.4,1189.8 656.5,1192.2 656.6,1194.6 656.7,1197.1 656.8,1199.6 656.8,1202.1 656.9,1204.6 657,1207.1 657,1209.7 657.1,1212.3 657.1,1214.9 657.1,1217.5 657.2,1220.2 657.2,1222.9 657.2,1225.6 657.2,1228.3 657.2,1231 657.2,1233.6 657.3,1236.3 657.3,1238.9 657.3,1241.4 657.3,1243.9 657.4,1246.3 657.4,1248.7 657.5,1250.9 657.6,1253 657.7,1255.1 657.8,1257" fill="none" stroke="#0000e0" stroke-width="4.9" stroke-linejoin="round" stroke-linecap="butt" stroke-miterlimit="3"/>
<polyline points="661,1257 661,1253.7 661,1250.4 661,1247.1 661,1243.9 661,1240.6 661,1237.3 661,1234 661,1230.7 661,1227.5 661,1224.2 661,1220.9 661,1217.6 661,1214.4 661,1211.1 661,1207.8 661,1204.6 661,1201.3 661,1198.1 661,1194.8 661,1191.6 661,1188.3 661,1185.1 661,1181.9 661,1178.6 661,1175.4 661,1172.2 661,1169 661,1165.8 661,1162.6 661.1,1159.4 661.1,1156.2 661.1,1153 661.1,1149.8 661.1,1146.6 661.1,1143.4 661.1,1140.3 661.1,1137.1 661.1,1134 661.1,1130.8 661.1,1127.7 661.1,1124.5 661.2,1121.4 661.2,1118.3 661.2,1115.2 661.2,1112.1 661.2,1109 661.2,1105.9 661.2,1102.8 661.2,1099.7 661.3,1096.7 661.3,1093.6 661.3,1090.6 661.3,1087.5 661.3,1084.5 661.3,1081.5 661.3,1078.5 661.4,1075.5 661.4,1072.5 661.4,1069.5 661.4,1066.6 661.4,1063.6 661.4,1060.7 661.5,1057.7 661.5,1054.8 661.5,1051.9 661.5,1049 661.5,1046.1 661.6,1043.2 661.6,1040.3 661.6,1037.5 661.6,1034.6 661.6,1031.8 661.7,1029 661.7,1026.1 661.7,1023.3 661.7,1020.6 661.8,1017.8 661.8,1015 661.8,1012.3 661.8,1009.5 661.9,1006.8 661.9,1004.1 661.9,1001.4 661.9,998.7 662,996.1 662,993.4 662,990.8 662,988.2 662.1,985.6 662.1,983 662.1,980.4 662.1,977.8 662.2,975.3 662.2,972.8 662.2,970.2 662.3,967.7 662.3,965.3 662.3,962.8 662.4,960.3 662.4,957.9 662.4,955.5 662.5,953.1 662.5,950.7 662.5,948.3 662.6,946 662.6,943.6 662.6,941.3 662.7,939 662.7,936.6 662.8,934.3 662.8,932 662.9,929.6 662.9,927.3 663,925 663.1,922.6 663.2,920.3 663.3,917.9 663.3,915.6 663.4,913.2 663.5,910.9 663.6,908.5 663.7,906.2 663.8,903.8 664,901.5 664.1,899.1 664.2,896.8 664.3,894.4 664.4,892.1 664.5,889.8 664.7,887.5 664.8,885.2 664.9,882.9 665,880.6 665.1,878.3 665.2,876.1 665.4,873.8 665.5,871.6 665.6,869.3 665.7,867.1 665.9,864.9 666,862.7 666.1,860.5 666.3,858.3 666.4,856.1 666.5,853.9 666.7,851.7 666.8,849.5 667,847.4 667.1,845.2 667.3,843 667.5,840.9 667.7,838.7 667.8,836.6 668,834.5 668.2,832.3 668.4,830.2 668.6,828.1 668.8,825.9 669.1,823.8 669.3,821.7 669.5,819.6 669.8,817.4 670,815.3 670.3,813.2 670.5,811.1 670.8,809 671.1,806.9 671.4,804.7 671.7,802.6 672,800.5 672.4,798.4 672.7,796.3 673.1,794.2 673.4,792.1 673.8,790 674.2,787.9 674.7,785.8 675.1,783.7 675.6,781.6 676.1,779.6 676.6,777.6 677.2,775.6 677.8,773.6 678.5,771.6 679.1,769.7 679.9,767.7 680.6,765.8 681.4,764 682.3,762.2 683.2,760.4 684.1,758.6 685.1,756.9 686.2,755.2 687.3,753.5 688.4,751.9 689.6,750.3 690.8,748.7 692.1,747.2 693.4,745.7 694.8,744.2 696.2,742.8 697.6,741.4 699.1,740 700.6,738.6 702.2,737.3 703.7,736 705.4,734.7 707,733.4 708.7,732.2 710.4,731 712.1,729.8 713.9,728.7 715.7,727.6 717.5,726.5 719.3,725.4 721.1,724.4 722.9,723.4 724.8,722.5 726.7,721.5 728.6,720.7 730.4,719.8 732.3,719 734.2,718.2 736.2,717.4 738.1,716.7 740,716 741.9,715.4 743.8,714.8 745.7,714.2 747.6,713.7 749.5,713.3 751.4,712.8 753.3,712.5 755.1,712.2 757,711.9 794.2,711.6 794.2,711.6 794.3,714.1 794.3,716.5 794.4,719 794.4,721.5 794.5,723.9 794.6,726.4 794.6,728.9 794.7,731.4 794.7,733.8 794.8,736.3 794.9,738.8 794.9,741.3 795,743.8 795,746.3 795.1,748.8 795.2,751.3 795.2,753.8 795.3,756.3 795.3,758.8 795.4,761.3 795.4,763.8 795.5,766.3 795.6,768.8 795.6,771.3 795.7,773.9 795.7,776.4 795.8,778.9 795.8,781.4 795.9,784 796,786.5 796,789 796.1,791.5 796.1,794.1 796.2,796.6 796.2,799.1 796.3,801.7 796.4,804.2 796.4,806.7 796.5,809.3 796.5,811.8 796.6,814.4 796.7,816.9 796.7,819.5 796.8,822 796.8,824.6 796.9,827.1 797,829.7 797,832.2 797.1,834.8 797.1,837.3 797.2,839.9 797.3,842.4 797.3,845 797.4,847.5 797.4,850.1 797.5,852.6 797.6,855.2 797.6,857.7 797.7,860.3 797.7,862.9 797.8,865.4 797.9,868 797.9,870.5 798,873.1 798.1,875.6 798.1,878.2 798.2,880.8 798.3,883.3 798.3,885.9 798.4,888.4 798.5,891 798.5,893.6 798.6,896.1 798.7,898.7 798.7,901.2 798.8,903.8 798.9,906.3 798.9,908.9 799,911.5 799.1,914 799.2,916.6 799.2,919.1 799.3,921.7 799.4,924.2 799.5,926.8 799.5,929.3 799.6,931.9 799.7,934.4 799.8,937 799.8,939.5 799.9,942.1 800,944.6 800.1,947.2 800.2,949.7 800.2,952.2 800.3,954.8 800.4,957.3 800.5,959.9 800.6,962.4 800.7,964.9 800.7,967.5 800.8,970 800.9,972.5 801,975.1 801.1,977.6 801.2,980.1 801.3,982.6 801.4,985.2 801.5,987.7 801.5,990.2 801.6,992.7 801.7,995.2 801.8,997.8 801.9,1000.3 802,1002.8 802.1,1005.3 802.2,1007.8 802.3,1010.3 802.4,1012.8 802.5,1015.3 802.6,1017.8 802.7,1020.3 802.8,1022.8 803,1025.3 803.1,1027.7 803.2,1030.2 803.3,1032.7 803.4,1035.2 803.5,1037.7 803.6,1040.1 803.7,1042.6 803.8,1045.1 804,1047.6 804.1,1050 804.2,1052.5 804.3,1055 804.4,1057.4 804.5,1059.9 804.7,1062.4 804.8,1064.8 804.9,1067.3 805,1069.7 805.1,1072.2 805.3,1074.7 805.4,1077.1 805.5,1079.6 805.6,1082 805.8,1084.5 805.9,1086.9 806,1089.4 806.2,1091.8 806.3,1094.3 806.4,1096.8 806.6,1099.2 806.7,1101.7 806.8,1104.1 806.9,1106.6 807.1,1109 807.2,1111.5 807.3,1113.9 807.5,1116.4 807.6,1118.8 807.8,1121.3 807.9,1123.8 808,1126.2 808.2,1128.7 808.3,1131.1 808.4,1133.6 808.6,1136.1 808.7,1138.5 808.9,1141 809,1143.5 809.1,1145.9 809.3,1148.4 809.4,1150.9 809.6,1153.3 809.7,1155.8 809.9,1158.3 810,1160.8 810.1,1163.2 810.3,1165.7 810.4,1168.2 810.6,1170.7 810.7,1173.2 810.9,1175.7 811,1178.2 811.2,1180.7 811.3,1183.2 811.5,1185.6 811.6,1188.2 811.7,1190.7 811.9,1193.2 812,1195.7 812.2,1198.2 812.3,1200.7 812.5,1203.2 812.6,1205.7 812.8,1208.3 812.9,1210.8 813.1,1213.3 813.2,1215.9 813.4,1218.4 813.5,1221 813.7,1223.5 813.8,1226.1 814,1228.6 814.1,1231.2 814.3,1233.7 814.4,1236.3 814.6,1238.9 814.7,1241.5 814.9,1244 815,1246.6 815.2,1249.2 815.3,1251.8 815.5,1254.4 815.6,1257" fill="none" stroke="#808000" stroke-width="4.7" stroke-linejoin="round" stroke-linecap="butt" stroke-miterlimit="3"/>
</g>
<line x1="141.6" y1="703" x2="141.6" y2="1259" stroke="#111" stroke-width="1.5"/>
<line x1="140.8" y1="1258" x2="829.6" y2="1258" stroke="#333" stroke-width="2.0"/>
<line x1="140.8" y1="704" x2="829.6" y2="704" stroke="#666" stroke-width="2.0"/>
<line x1="828.6" y1="704" x2="828.6" y2="1258" stroke="#666" stroke-width="2.0"/>
<line x1="130.6" y1="1256.5" x2="141.6" y2="1256.5" stroke="#444" stroke-width="2.1"/>
<line x1="130.6" y1="1147.5" x2="141.6" y2="1147.5" stroke="#444" stroke-width="2.1"/>
<line x1="130.6" y1="1038.5" x2="141.6" y2="1038.5" stroke="#444" stroke-width="2.1"/>
<line x1="130.6" y1="929.6" x2="141.6" y2="929.6" stroke="#444" stroke-width="2.1"/>
<line x1="130.6" y1="820.6" x2="141.6" y2="820.6" stroke="#444" stroke-width="2.1"/>
<line x1="130.6" y1="711.6" x2="141.6" y2="711.6" stroke="#444" stroke-width="2.1"/>
<line x1="137.1" y1="1202" x2="141.6" y2="1202" stroke="#444" stroke-width="2.1"/>
<line x1="137.1" y1="1093" x2="141.6" y2="1093" stroke="#444" stroke-width="2.1"/>
<line x1="137.1" y1="984" x2="141.6" y2="984" stroke="#444" stroke-width="2.1"/>
<line x1="137.1" y1="875.1" x2="141.6" y2="875.1" stroke="#444" stroke-width="2.1"/>
<line x1="137.1" y1="766.1" x2="141.6" y2="766.1" stroke="#444" stroke-width="2.1"/>
<line x1="141.6" y1="1258" x2="141.6" y2="1268.5" stroke="#444" stroke-width="2.0"/>
<line x1="294.2" y1="1258" x2="294.2" y2="1268.5" stroke="#444" stroke-width="2.0"/>
<line x1="446.8" y1="1258" x2="446.8" y2="1268.5" stroke="#444" stroke-width="2.0"/>
<line x1="599.4" y1="1258" x2="599.4" y2="1268.5" stroke="#444" stroke-width="2.0"/>
<line x1="752" y1="1258" x2="752" y2="1268.5" stroke="#444" stroke-width="2.0"/>
<line x1="217.9" y1="1258" x2="217.9" y2="1263" stroke="#444" stroke-width="2.0"/>
<line x1="370.5" y1="1258" x2="370.5" y2="1263" stroke="#444" stroke-width="2.0"/>
<line x1="523.1" y1="1258" x2="523.1" y2="1263" stroke="#444" stroke-width="2.0"/>
<line x1="675.7" y1="1258" x2="675.7" y2="1263" stroke="#444" stroke-width="2.0"/>
<line x1="828.3" y1="1258" x2="828.3" y2="1263" stroke="#444" stroke-width="2.0"/>
<text x="64.42" y="1267.88" font-size="42.5" letter-spacing="-0.40" fill="#000">0.0</text>
<text x="64.85" y="1158.89" font-size="42.5" letter-spacing="-0.40" fill="#000">0.2</text>
<text x="64.00" y="1049.91" font-size="42.5" letter-spacing="-0.40" fill="#000">0.4</text>
<text x="64.42" y="940.94" font-size="42.5" letter-spacing="-0.40" fill="#000">0.6</text>
<text x="64.42" y="831.96" font-size="42.5" letter-spacing="-0.40" fill="#000">0.8</text>
<text x="64.42" y="722.98" font-size="42.5" letter-spacing="-0.40" fill="#000">1.0</text>
<text x="130.85" y="1303.63" font-size="36.6" letter-spacing="-0.30" fill="#000">0</text>
<text x="263.44" y="1303.63" font-size="36.6" letter-spacing="-0.30" fill="#000">300</text>
<text x="415.86" y="1303.63" font-size="36.6" letter-spacing="-0.30" fill="#000">600</text>
<text x="568.46" y="1303.63" font-size="36.6" letter-spacing="-0.30" fill="#000">900</text>
<text x="710.59" y="1303.63" font-size="36.6" letter-spacing="-0.30" fill="#000">1200</text>
<text x="389.21" y="1361.00" font-size="49.4" letter-spacing="1.80" fill="#000">Time (s)</text>
<text x="38.70" y="1111.49" font-size="49.4" letter-spacing="1.90" fill="#000" transform="rotate(-90 38.70 1111.49)">Voltage (V)</text>
<text x="-1.30" y="731.30" font-size="50" letter-spacing="2.90" fill="#000">(c)</text>
<text x="240.00" y="1224.42" font-size="28.4" letter-spacing="0.12" fill="#222" transform="rotate(-90 240.00 1224.42)">Cycle 1</text>
<text x="404.00" y="1231.42" font-size="28.4" letter-spacing="0.12" fill="#222" transform="rotate(-90 404.00 1231.42)">Cycle 1000</text>
<text x="577.00" y="1230.42" font-size="28.4" letter-spacing="0.12" fill="#222" transform="rotate(-90 577.00 1230.42)">Cycle 2000</text>
<text x="728.00" y="1224.42" font-size="28.4" letter-spacing="0.12" fill="#222" transform="rotate(-90 728.00 1224.42)">Cycle 3000</text>
<rect x="981.4" y="707.4" width="13.2" height="12.4" fill="#000"/>
<rect x="994" y="709.6" width="13.2" height="12.4" fill="#000"/>
<rect x="1006.6" y="711.7" width="13.2" height="12.4" fill="#000"/>
<rect x="1019.2" y="713.6" width="13.2" height="12.4" fill="#000"/>
<rect x="1031.8" y="715.2" width="13.2" height="12.4" fill="#000"/>
<rect x="1044.4" y="716.7" width="13.2" height="12.4" fill="#000"/>
<rect x="1057" y="718.1" width="13.2" height="12.4" fill="#000"/>
<rect x="1069.6" y="719.3" width="13.2" height="12.4" fill="#000"/>
<rect x="1082.2" y="720.4" width="13.2" height="12.4" fill="#000"/>
<rect x="1094.8" y="721.4" width="13.2" height="12.4" fill="#000"/>
<rect x="1107.4" y="722.2" width="13.2" height="12.4" fill="#000"/>
<rect x="1120" y="722.9" width="13.2" height="12.4" fill="#000"/>
<rect x="1132.6" y="723.6" width="13.2" height="12.4" fill="#000"/>
<rect x="1145.2" y="724.2" width="13.2" height="12.4" fill="#000"/>
<rect x="1157.8" y="724.9" width="13.2" height="12.4" fill="#000"/>
<rect x="1170.4" y="725.5" width="13.2" height="12.4" fill="#000"/>
<rect x="1183" y="726.2" width="13.2" height="12.4" fill="#000"/>
<rect x="1195.6" y="726.9" width="13.2" height="12.4" fill="#000"/>
<rect x="1208.2" y="727.6" width="13.2" height="12.4" fill="#000"/>
<rect x="1220.8" y="728.2" width="13.2" height="12.4" fill="#000"/>
<rect x="1233.4" y="728.8" width="13.2" height="12.4" fill="#000"/>
<rect x="1246" y="729.3" width="13.2" height="12.4" fill="#000"/>
<rect x="1258.6" y="729.8" width="13.2" height="12.4" fill="#000"/>
<rect x="1271.2" y="730.2" width="13.2" height="12.4" fill="#000"/>
<rect x="1283.8" y="730.6" width="13.2" height="12.4" fill="#000"/>
<rect x="1296.4" y="731.1" width="13.2" height="12.4" fill="#000"/>
<rect x="1309" y="731.4" width="13.2" height="12.4" fill="#000"/>
<rect x="1321.6" y="731.8" width="13.2" height="12.4" fill="#000"/>
<rect x="1334.2" y="732.2" width="13.2" height="12.4" fill="#000"/>
<rect x="1346.8" y="732.5" width="13.2" height="12.4" fill="#000"/>
<rect x="1359.4" y="732.9" width="13.2" height="12.4" fill="#000"/>
<rect x="1372" y="733.2" width="13.2" height="12.4" fill="#000"/>
<rect x="1384.6" y="733.5" width="13.2" height="12.4" fill="#000"/>
<rect x="1397.2" y="733.8" width="13.2" height="12.4" fill="#000"/>
<rect x="1409.8" y="734" width="13.2" height="12.4" fill="#000"/>
<rect x="1422.4" y="734.3" width="13.2" height="12.4" fill="#000"/>
<rect x="1435" y="734.5" width="13.2" height="12.4" fill="#000"/>
<rect x="1447.6" y="734.7" width="13.2" height="12.4" fill="#000"/>
<rect x="1460.2" y="734.9" width="13.2" height="12.4" fill="#000"/>
<rect x="1472.8" y="735.1" width="13.2" height="12.4" fill="#000"/>
<rect x="1485.4" y="735.2" width="13.2" height="12.4" fill="#000"/>
<rect x="1498" y="735.4" width="13.2" height="12.4" fill="#000"/>
<rect x="1510.6" y="735.5" width="13.2" height="12.4" fill="#000"/>
<rect x="1523.2" y="735.8" width="13.2" height="12.4" fill="#000"/>
<rect x="1535.8" y="736" width="13.2" height="12.4" fill="#000"/>
<rect x="1548.4" y="736.4" width="13.2" height="12.4" fill="#000"/>
<rect x="1561" y="736.7" width="13.2" height="12.4" fill="#000"/>
<rect x="1573.6" y="737.2" width="13.2" height="12.4" fill="#000"/>
<rect x="1586.2" y="737.6" width="13.2" height="12.4" fill="#000"/>
<rect x="1598.8" y="738.1" width="13.2" height="12.4" fill="#000"/>
<rect x="1611.4" y="738.6" width="13.2" height="12.4" fill="#000"/>
<rect x="1624" y="739.2" width="13.2" height="12.4" fill="#000"/>
<rect x="1636.6" y="739.7" width="13.2" height="12.4" fill="#000"/>
<rect x="1649.2" y="740.2" width="13.2" height="12.4" fill="#000"/>
<rect x="1661.8" y="740.7" width="13.2" height="12.4" fill="#000"/>
<circle cx="988" cy="713.6" r="6.6" fill="#ff0000"/>
<circle cx="1000.6" cy="715.1" r="6.6" fill="#ff0000"/>
<circle cx="1013.2" cy="717" r="6.6" fill="#ff0000"/>
<circle cx="1025.8" cy="719.5" r="6.6" fill="#ff0000"/>
<circle cx="1038.4" cy="722.4" r="6.6" fill="#ff0000"/>
<circle cx="1051" cy="725.4" r="6.6" fill="#ff0000"/>
<circle cx="1063.6" cy="728.1" r="6.6" fill="#ff0000"/>
<circle cx="1076.2" cy="730.5" r="6.6" fill="#ff0000"/>
<circle cx="1088.8" cy="732.7" r="6.6" fill="#ff0000"/>
<circle cx="1101.4" cy="734.7" r="6.6" fill="#ff0000"/>
<circle cx="1114" cy="736.8" r="6.6" fill="#ff0000"/>
<circle cx="1126.6" cy="738.8" r="6.6" fill="#ff0000"/>
<circle cx="1139.2" cy="740.5" r="6.6" fill="#ff0000"/>
<circle cx="1151.8" cy="742" r="6.6" fill="#ff0000"/>
<circle cx="1164.4" cy="743.2" r="6.6" fill="#ff0000"/>
<circle cx="1177" cy="744.4" r="6.6" fill="#ff0000"/>
<circle cx="1189.6" cy="745.7" r="6.6" fill="#ff0000"/>
<circle cx="1202.2" cy="747.2" r="6.6" fill="#ff0000"/>
<circle cx="1214.8" cy="748.8" r="6.6" fill="#ff0000"/>
<circle cx="1227.4" cy="750.1" r="6.6" fill="#ff0000"/>
<circle cx="1240" cy="751" r="6.6" fill="#ff0000"/>
<circle cx="1252.6" cy="751.6" r="6.6" fill="#ff0000"/>
<circle cx="1265.2" cy="752" r="6.6" fill="#ff0000"/>
<circle cx="1277.8" cy="752.4" r="6.6" fill="#ff0000"/>
<circle cx="1290.4" cy="752.7" r="6.6" fill="#ff0000"/>
<circle cx="1303" cy="753.1" r="6.6" fill="#ff0000"/>
<circle cx="1315.6" cy="753.4" r="6.6" fill="#ff0000"/>
<circle cx="1328.2" cy="753.7" r="6.6" fill="#ff0000"/>
<circle cx="1340.8" cy="754" r="6.6" fill="#ff0000"/>
<circle cx="1353.4" cy="754.3" r="6.6" fill="#ff0000"/>
<circle cx="1366" cy="754.6" r="6.6" fill="#ff0000"/>
<circle cx="1378.6" cy="755" r="6.6" fill="#ff0000"/>
<circle cx="1391.2" cy="755.3" r="6.6" fill="#ff0000"/>
<circle cx="1403.8" cy="755.7" r="6.6" fill="#ff0000"/>
<circle cx="1416.4" cy="756.2" r="6.6" fill="#ff0000"/>
<circle cx="1429" cy="756.6" r="6.6" fill="#ff0000"/>
<circle cx="1441.6" cy="757.1" r="6.6" fill="#ff0000"/>
<circle cx="1454.2" cy="757.6" r="6.6" fill="#ff0000"/>
<circle cx="1466.8" cy="758.1" r="6.6" fill="#ff0000"/>
<circle cx="1479.4" cy="758.7" r="6.6" fill="#ff0000"/>
<circle cx="1492" cy="759.2" r="6.6" fill="#ff0000"/>
<circle cx="1504.6" cy="759.7" r="6.6" fill="#ff0000"/>
<circle cx="1517.2" cy="760.2" r="6.6" fill="#ff0000"/>
<circle cx="1529.8" cy="760.6" r="6.6" fill="#ff0000"/>
<circle cx="1542.4" cy="760.9" r="6.6" fill="#ff0000"/>
<circle cx="1555" cy="761.3" r="6.6" fill="#ff0000"/>
<circle cx="1567.6" cy="761.6" r="6.6" fill="#ff0000"/>
<circle cx="1580.2" cy="761.9" r="6.6" fill="#ff0000"/>
<circle cx="1592.8" cy="762.2" r="6.6" fill="#ff0000"/>
<circle cx="1605.4" cy="762.5" r="6.6" fill="#ff0000"/>
<circle cx="1618" cy="762.8" r="6.6" fill="#ff0000"/>
<circle cx="1630.6" cy="763.1" r="6.6" fill="#ff0000"/>
<circle cx="1643.2" cy="763.4" r="6.6" fill="#ff0000"/>
<circle cx="1655.8" cy="763.7" r="6.6" fill="#ff0000"/>
<circle cx="1668.4" cy="764" r="6.6" fill="#ff0000"/>
<polygon points="988,706.1 982,709.9 982,717.4 988,721.1 994,717.4 994,709.9" fill="#0000ff"/>
<polygon points="1000.6,710.8 994.6,714.6 994.6,722.1 1000.6,725.8 1006.6,722.1 1006.6,714.6" fill="#0000ff"/>
<polygon points="1013.2,715.6 1007.2,719.3 1007.2,726.8 1013.2,730.6 1019.2,726.8 1019.2,719.3" fill="#0000ff"/>
<polygon points="1025.8,720.4 1019.8,724.1 1019.8,731.6 1025.8,735.4 1031.8,731.6 1031.8,724.1" fill="#0000ff"/>
<polygon points="1038.4,725.3 1032.4,729 1032.4,736.5 1038.4,740.3 1044.4,736.5 1044.4,729" fill="#0000ff"/>
<polygon points="1051,730.5 1045,734.2 1045,741.8 1051,745.5 1057,741.8 1057,734.2" fill="#0000ff"/>
<polygon points="1063.6,735.7 1057.6,739.5 1057.6,747 1063.6,750.7 1069.6,747 1069.6,739.5" fill="#0000ff"/>
<polygon points="1076.2,740.7 1070.2,744.4 1070.2,751.9 1076.2,755.7 1082.2,751.9 1082.2,744.4" fill="#0000ff"/>
<polygon points="1088.8,745.4 1082.8,749.2 1082.8,756.7 1088.8,760.4 1094.8,756.7 1094.8,749.2" fill="#0000ff"/>
<polygon points="1101.4,750 1095.4,753.7 1095.4,761.2 1101.4,765 1107.4,761.2 1107.4,753.7" fill="#0000ff"/>
<polygon points="1114,754.5 1108,758.2 1108,765.8 1114,769.5 1120,765.8 1120,758.2" fill="#0000ff"/>
<polygon points="1126.6,759.5 1120.6,763.2 1120.6,770.7 1126.6,774.5 1132.6,770.7 1132.6,763.2" fill="#0000ff"/>
<polygon points="1139.2,759.7 1133.2,763.5 1133.2,771 1139.2,774.7 1145.2,771 1145.2,763.5" fill="#0000ff"/>
<polygon points="1151.8,759.9 1145.8,763.6 1145.8,771.1 1151.8,774.9 1157.8,771.1 1157.8,763.6" fill="#0000ff"/>
<polygon points="1164.4,760.1 1158.4,763.9 1158.4,771.4 1164.4,775.1 1170.4,771.4 1170.4,763.9" fill="#0000ff"/>
<polygon points="1177,760.4 1171,764.2 1171,771.7 1177,775.4 1183,771.7 1183,764.2" fill="#0000ff"/>
<polygon points="1189.6,760.9 1183.6,764.7 1183.6,772.2 1189.6,775.9 1195.6,772.2 1195.6,764.7" fill="#0000ff"/>
<polygon points="1202.2,761.7 1196.2,765.4 1196.2,772.9 1202.2,776.7 1208.2,772.9 1208.2,765.4" fill="#0000ff"/>
<polygon points="1214.8,762.6 1208.8,766.4 1208.8,773.9 1214.8,777.6 1220.8,773.9 1220.8,766.4" fill="#0000ff"/>
<polygon points="1227.4,763.6 1221.4,767.3 1221.4,774.8 1227.4,778.6 1233.4,774.8 1233.4,767.3" fill="#0000ff"/>
<polygon points="1240,764.5 1234,768.2 1234,775.8 1240,779.5 1246,775.8 1246,768.2" fill="#0000ff"/>
<polygon points="1252.6,765.3 1246.6,769.1 1246.6,776.6 1252.6,780.3 1258.6,776.6 1258.6,769.1" fill="#0000ff"/>
<polygon points="1265.2,766.1 1259.2,769.8 1259.2,777.3 1265.2,781.1 1271.2,777.3 1271.2,769.8" fill="#0000ff"/>
<polygon points="1277.8,766.9 1271.8,770.6 1271.8,778.1 1277.8,781.9 1283.8,778.1 1283.8,770.6" fill="#0000ff"/>
<polygon points="1290.4,767.8 1284.4,771.5 1284.4,779 1290.4,782.8 1296.4,779 1296.4,771.5" fill="#0000ff"/>
<polygon points="1303,768.8 1297,772.5 1297,780 1303,783.8 1309,780 1309,772.5" fill="#0000ff"/>
<polygon points="1315.6,770 1309.6,773.7 1309.6,781.2 1315.6,785 1321.6,781.2 1321.6,773.7" fill="#0000ff"/>
<polygon points="1328.2,771.3 1322.2,775.1 1322.2,782.6 1328.2,786.3 1334.2,782.6 1334.2,775.1" fill="#0000ff"/>
<polygon points="1340.8,772.6 1334.8,776.3 1334.8,783.8 1340.8,787.6 1346.8,783.8 1346.8,776.3" fill="#0000ff"/>
<polygon points="1353.4,773.8 1347.4,777.5 1347.4,785 1353.4,788.8 1359.4,785 1359.4,777.5" fill="#0000ff"/>
<polygon points="1366,774.9 1360,778.7 1360,786.2 1366,789.9 1372,786.2 1372,778.7" fill="#0000ff"/>
<polygon points="1378.6,775.9 1372.6,779.7 1372.6,787.2 1378.6,790.9 1384.6,787.2 1384.6,779.7" fill="#0000ff"/>
<polygon points="1391.2,776.5 1385.2,780.3 1385.2,787.8 1391.2,791.5 1397.2,787.8 1397.2,780.3" fill="#0000ff"/>
<polygon points="1403.8,776.8 1397.8,780.6 1397.8,788.1 1403.8,791.8 1409.8,788.1 1409.8,780.6" fill="#0000ff"/>
<polygon points="1416.4,777.1 1410.4,780.8 1410.4,788.3 1416.4,792.1 1422.4,788.3 1422.4,780.8" fill="#0000ff"/>
<polygon points="1429,777.3 1423,781 1423,788.5 1429,792.3 1435,788.5 1435,781" fill="#0000ff"/>
<polygon points="1441.6,777.5 1435.6,781.3 1435.6,788.8 1441.6,792.5 1447.6,788.8 1447.6,781.3" fill="#0000ff"/>
<polygon points="1454.2,778 1448.2,781.7 1448.2,789.2 1454.2,793 1460.2,789.2 1460.2,781.7" fill="#0000ff"/>
<polygon points="1466.8,778.5 1460.8,782.3 1460.8,789.8 1466.8,793.5 1472.8,789.8 1472.8,782.3" fill="#0000ff"/>
<polygon points="1479.4,779.1 1473.4,782.9 1473.4,790.4 1479.4,794.1 1485.4,790.4 1485.4,782.9" fill="#0000ff"/>
<polygon points="1492,779.7 1486,783.4 1486,790.9 1492,794.7 1498,790.9 1498,783.4" fill="#0000ff"/>
<polygon points="1504.6,780.2 1498.6,784 1498.6,791.5 1504.6,795.2 1510.6,791.5 1510.6,784" fill="#0000ff"/>
<polygon points="1517.2,780.7 1511.2,784.4 1511.2,791.9 1517.2,795.7 1523.2,791.9 1523.2,784.4" fill="#0000ff"/>
<polygon points="1529.8,781.1 1523.8,784.8 1523.8,792.3 1529.8,796.1 1535.8,792.3 1535.8,784.8" fill="#0000ff"/>
<polygon points="1542.4,781.4 1536.4,785.2 1536.4,792.7 1542.4,796.4 1548.4,792.7 1548.4,785.2" fill="#0000ff"/>
<polygon points="1555,781.8 1549,785.5 1549,793 1555,796.8 1561,793 1561,785.5" fill="#0000ff"/>
<polygon points="1567.6,782.1 1561.6,785.8 1561.6,793.3 1567.6,797.1 1573.6,793.3 1573.6,785.8" fill="#0000ff"/>
<polygon points="1580.2,782.4 1574.2,786.2 1574.2,793.7 1580.2,797.4 1586.2,793.7 1586.2,786.2" fill="#0000ff"/>
<polygon points="1592.8,782.7 1586.8,786.5 1586.8,794 1592.8,797.7 1598.8,794 1598.8,786.5" fill="#0000ff"/>
<polygon points="1605.4,783 1599.4,786.8 1599.4,794.3 1605.4,798 1611.4,794.3 1611.4,786.8" fill="#0000ff"/>
<polygon points="1618,783.3 1612,787.1 1612,794.6 1618,798.3 1624,794.6 1624,787.1" fill="#0000ff"/>
<polygon points="1630.6,783.6 1624.6,787.3 1624.6,794.8 1630.6,798.6 1636.6,794.8 1636.6,787.3" fill="#0000ff"/>
<polygon points="1643.2,783.9 1637.2,787.6 1637.2,795.1 1643.2,798.9 1649.2,795.1 1649.2,787.6" fill="#0000ff"/>
<polygon points="1655.8,784.2 1649.8,787.9 1649.8,795.4 1655.8,799.2 1661.8,795.4 1661.8,787.9" fill="#0000ff"/>
<polygon points="1668.4,784.5 1662.4,788.3 1662.4,795.8 1668.4,799.5 1674.4,795.8 1674.4,788.3" fill="#0000ff"/>
<rect x="1676.8" y="704" width="40" height="110" fill="#fff"/>
<rect x="976.2" y="704" width="11.2" height="110" fill="#fff"/>
<line x1="988.2" y1="703" x2="988.2" y2="1259.1" stroke="#444" stroke-width="2.1"/>
<line x1="987.2" y1="1258.1" x2="1677" y2="1258.1" stroke="#444" stroke-width="2.1"/>
<line x1="987.2" y1="704" x2="1677" y2="704" stroke="#555" stroke-width="2.0"/>
<line x1="1676" y1="704" x2="1676" y2="1258.1" stroke="#555" stroke-width="2.0"/>
<line x1="977.2" y1="1258.1" x2="988.2" y2="1258.1" stroke="#444" stroke-width="2.1"/>
<line x1="977.2" y1="1148.8" x2="988.2" y2="1148.8" stroke="#444" stroke-width="2.1"/>
<line x1="977.2" y1="1040" x2="988.2" y2="1040" stroke="#444" stroke-width="2.1"/>
<line x1="977.2" y1="931.8" x2="988.2" y2="931.8" stroke="#444" stroke-width="2.1"/>
<line x1="977.2" y1="824.1" x2="988.2" y2="824.1" stroke="#444" stroke-width="2.1"/>
<line x1="977.2" y1="713.9" x2="988.2" y2="713.9" stroke="#444" stroke-width="2.1"/>
<line x1="983.7" y1="1203.4" x2="988.2" y2="1203.4" stroke="#444" stroke-width="2.1"/>
<line x1="983.7" y1="1094.4" x2="988.2" y2="1094.4" stroke="#444" stroke-width="2.1"/>
<line x1="983.7" y1="985.9" x2="988.2" y2="985.9" stroke="#444" stroke-width="2.1"/>
<line x1="983.7" y1="878" x2="988.2" y2="878" stroke="#444" stroke-width="2.1"/>
<line x1="983.7" y1="769" x2="988.2" y2="769" stroke="#444" stroke-width="2.1"/>
<line x1="988" y1="1258.1" x2="988" y2="1268.6" stroke="#444" stroke-width="2.1"/>
<line x1="1124.1" y1="1258.1" x2="1124.1" y2="1268.6" stroke="#444" stroke-width="2.1"/>
<line x1="1260.2" y1="1258.1" x2="1260.2" y2="1268.6" stroke="#444" stroke-width="2.1"/>
<line x1="1396.2" y1="1258.1" x2="1396.2" y2="1268.6" stroke="#444" stroke-width="2.1"/>
<line x1="1532.3" y1="1258.1" x2="1532.3" y2="1268.6" stroke="#444" stroke-width="2.1"/>
<line x1="1668.4" y1="1258.1" x2="1668.4" y2="1268.6" stroke="#444" stroke-width="2.1"/>
<line x1="1056" y1="1258.1" x2="1056" y2="1263.1" stroke="#444" stroke-width="2.1"/>
<line x1="1192.1" y1="1258.1" x2="1192.1" y2="1263.1" stroke="#444" stroke-width="2.1"/>
<line x1="1328.2" y1="1258.1" x2="1328.2" y2="1263.1" stroke="#444" stroke-width="2.1"/>
<line x1="1464.3" y1="1258.1" x2="1464.3" y2="1263.1" stroke="#444" stroke-width="2.1"/>
<line x1="1600.4" y1="1258.1" x2="1600.4" y2="1263.1" stroke="#444" stroke-width="2.1"/>
<text x="945.76" y="1269.68" font-size="42" letter-spacing="-0.50" fill="#000">0</text>
<text x="923.16" y="1160.38" font-size="42" letter-spacing="-0.50" fill="#000">20</text>
<text x="923.16" y="1051.58" font-size="42" letter-spacing="-0.50" fill="#000">40</text>
<text x="923.16" y="943.38" font-size="42" letter-spacing="-0.50" fill="#000">60</text>
<text x="923.16" y="835.68" font-size="42" letter-spacing="-0.50" fill="#000">80</text>
<text x="900.14" y="725.48" font-size="42" letter-spacing="-0.50" fill="#000">100</text>
<text x="975.64" y="1308.58" font-size="42" fill="#000">0</text>
<text x="1076.02" y="1308.58" font-size="42" fill="#000">1000</text>
<text x="1212.73" y="1308.58" font-size="42" fill="#000">2000</text>
<text x="1349.02" y="1308.58" font-size="42" fill="#000">3000</text>
<text x="1485.52" y="1308.58" font-size="42" fill="#000">4000</text>
<text x="1621.18" y="1308.58" font-size="42" fill="#000">5000</text>
<text x="1154.46" y="1358.50" font-size="49.4" letter-spacing="1.40" fill="#000">Cycle number</text>
<text x="894.10" y="1315.46" font-size="49" letter-spacing="1.60" fill="#000" transform="rotate(-90 894.10 1315.46)">capacitance retention %</text>
<text x="842.20" y="727.60" font-size="50" letter-spacing="2.50" fill="#000">(d)</text>
<rect x="1167.3" y="829.2" width="13.5" height="12.2" fill="#000"/>
<circle cx="1174.1" cy="880.3" r="6.9" fill="#ff0000"/>
<polygon points="1174.1,925.8 1168,929.6 1168,937.2 1174.1,941 1180.2,937.2 1180.2,929.6" fill="#0000ff"/>
<text x="1223.12" y="847.80" font-size="36" letter-spacing="0.50" fill="#000">HCl</text>
<text x="1223.4" y="892" font-size="36" letter-spacing="0.3" fill="#000">Na<tspan font-size="25.5" dy="11">2</tspan><tspan dy="-11">SO</tspan><tspan font-size="25.5" dy="11">4</tspan></text>
<text x="1223.42" y="944.70" font-size="36" letter-spacing="1.40" fill="#000">KOH</text>
</svg>
</body>
</html>
